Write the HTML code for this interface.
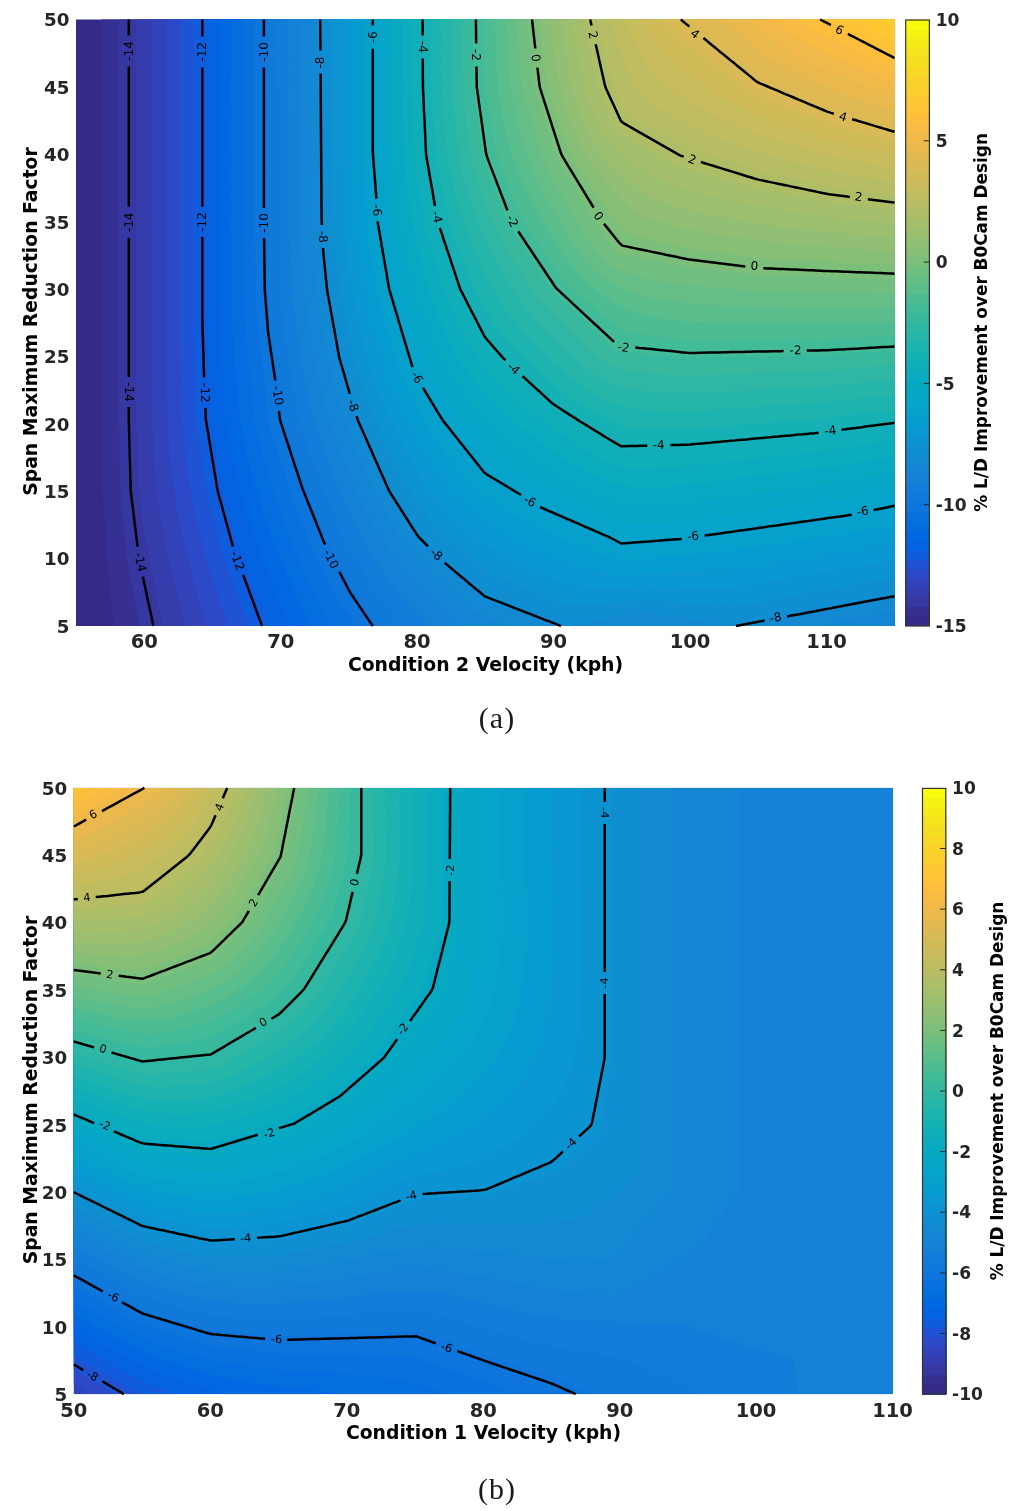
<!DOCTYPE html>
<html><head><meta charset="utf-8"><title>Contour plots</title>
<style>
html,body{margin:0;padding:0;background:#fff}
body{width:1024px;height:1511px;position:relative;overflow:hidden}
svg{position:absolute;left:0;top:0}
.tk{font:bold 19.5px "DejaVu Sans","Liberation Sans",sans-serif;fill:#262626}
.ax{font:bold 18.8px "DejaVu Sans","Liberation Sans",sans-serif;fill:#000}
.cl{font-family:"DejaVu Sans","Liberation Sans",sans-serif;fill:#000;text-anchor:middle;dominant-baseline:central}
.cap{font:30px "Liberation Serif",serif;letter-spacing:1px;fill:#1a1a1a;text-anchor:middle}
</style></head><body>
<svg width="1024" height="1511" viewBox="0 0 1024 1511">
<g id="fa"><rect x="76.0" y="19.5" width="818.7" height="606.5" fill="#352a87"/>
<path fill="#363093" d="M894.7,626 113.8,626 113,620 112,608 107,557.9 102.8,495.9 102.3,485.9 101.3,417.8 101.3,19.5 894.7,19.5Z"/>
<path fill="#3637a0" d="M894.7,626 139.7,626 127,557.9 120.9,495.9 120.4,487.9 119,417.8 119,19.5 894.7,19.5Z"/>
<path fill="#353dad" d="M894.7,626 163.5,626 153.1,580 147.2,549.9 145,535.9 139.9,499.9 138.9,491.9 138.4,483.9 136.5,429.8 136.2,413.8 136.2,43.5 136,19.5 894.7,19.5Z"/>
<path fill="#3243ba" d="M894.7,626 185.6,626 179.2,602 171.8,572 166.5,547.9 162.6,527.9 158.8,505.9 156.7,489.9 155.2,473.9 153.6,449.9 152.4,421.8 151.9,391.8 151.7,319.7 151.9,45.5 151.8,31.5 151.4,19.5 894.7,19.5Z"/>
<path fill="#2c4ac7" d="M894.7,626 206.8,626 199,600 190.1,568 184.2,543.9 179,519.9 175.6,501.9 173,483.9 170.6,461.9 168.3,433.8 167.4,417.8 166.9,401.8 166.4,337.8 166.6,47.5 166.4,31.5 166,19.5 894.7,19.5Z"/>
<path fill="#2053d4" d="M894.7,626 227.7,626 217.1,594 207.2,561.9 201.8,541.9 195.1,513.9 191.4,495.9 188.9,479.9 184.3,443.8 182.3,423.8 181.7,411.8 181.2,395.8 180.2,321.7 180.4,47.5 180.3,31.5 180,19.5 894.7,19.5Z"/>
<path fill="#0f5cdd" d="M894.7,626 248.2,626 227.1,566 223,553.9 219.6,541.9 209.7,503.9 207.3,493.9 205.9,485.9 197.4,429.8 196.5,421.8 195.8,411.8 194.8,377.8 193.5,317.7 193.6,51.5 193.4,19.5 894.7,19.5Z"/>
<path fill="#0363e1" d="M206.4,19.5 894.7,19.5 894.7,626 268.6,626 264.7,616 239.2,547.9 236.8,539.9 224.3,495.9 222.8,489.9 221.6,483.9 211.5,425.8 210.6,419.8 210.1,413.8 208.4,373.8 206.4,315.7Z"/>
<path fill="#0268e1" d="M218.8,19.5 894.7,19.5 894.7,626 289.6,626 284.9,616 280.2,604.9 263,561.9 255.6,541.9 248.5,519.9 240.7,493.9 236.7,477.9 232.4,457.9 228.4,437.8 226.3,425.8 224.9,415.8 223.5,397.8 220.9,353.8 219.5,325.8 219,305.7 218.8,269.7 218.9,33.5Z"/>
<path fill="#046de0" d="M231,19.5 894.7,19.5 894.7,626 310.8,626 305.5,616 300.2,605 294.3,592 288.2,577.9 281.6,561.9 276,547.9 270.8,533.9 266.2,520.7 261.3,505.9 257,491.9 253.5,479.9 249.8,465.9 246.1,451 243.2,437.8 240.9,425.8 239.4,415.8 237.5,397.8 233.2,341.8 232,319.7 231.2,297.7 231,267.7 230.9,123.6 231.1,35.5Z"/>
<path fill="#0871de" d="M242.9,19.5 894.7,19.5 894.7,626 332.5,626 326.5,616 321,606 315.9,596 310.2,584 302.8,568 297.5,555.9 292.6,543.9 287.2,529.9 281.3,513.9 276.4,499.9 272.2,487 267.6,471.9 261.8,451.9 258.1,437.8 255.8,427.8 254,417.8 252.3,403.8 245.8,337.8 244.3,315.7 243.2,291.7 243,277.7 242.9,217.7 243.1,35.5Z"/>
<path fill="#0d75dc" d="M254.6,19.5 894.7,19.5 894.7,626 354.8,626 342.2,606.6 336,596 331.8,588 316.9,557.9 313.1,549.9 310.5,543.9 294.2,502.1 289.1,487.9 271.4,431.8 269.3,423.8 268.2,417.8 267.2,409.8 263.7,377.8 258.1,333.8 255.7,299.7 255.2,289.7 254.6,217.7Z"/>
<path fill="#1079da" d="M266.2,19.5 894.7,19.5 894.7,626 377.5,626 372.3,618.7 356.2,595.3 352.8,590 350.2,585.4 327.5,541.9 324.9,535.9 307.1,491.9 304.8,485.9 288.3,435.8 284.2,423.8 282.6,417.8 277.9,379.8 270.9,333.8 267.6,295.7 267.1,287.7 266.2,219.7Z"/>
<path fill="#127dd8" d="M894.7,626 402.4,626 395.2,618 388.3,609.4 378.3,596 370.3,584.4 364.2,574.9 358.2,564.5 349.1,547.9 342.9,535.9 338.2,525.9 331.3,509.9 323.1,489.9 318.5,477.9 310.2,454.5 302.5,431.8 298.8,419.8 296.9,411.8 294.7,399.8 284,333.8 282.5,321.7 280.7,303.7 279.8,293.7 279.2,283.7 278.3,253.7 277.7,219.7 277.7,133.6 277.4,19.5 894.7,19.5Z"/>
<path fill="#1481d6" d="M288.5,19.5 894.7,19.5 894.7,626 430.2,626 423.5,620 417.3,614 408.3,604.5 400.3,595.2 392.3,585.1 384.3,574.2 377.4,563.9 370.3,552.3 363.2,539.9 356.2,526.7 349.1,511.9 342.2,496.1 334.8,477.9 327.2,457.9 320.7,439.8 316,425.8 312.5,413.8 309.2,399.8 306.2,385.3 302.1,363.8 299.3,347.8 296.8,331.8 294.6,315.7 292.7,299.7 291.6,287.7 290.8,275.7 289.7,247.7 289.1,219.7 289.1,135.6Z"/>
<path fill="#1485d4" d="M894.7,626 462.1,626 453.5,620 444.3,612.6 434.3,603.7 424.3,594 414.8,584 406.3,574.2 398.3,564.2 392.3,555.9 385.6,545.9 378.3,533.6 370.3,519.2 363.5,505.9 358,493.9 350.2,475.4 338.5,445.9 332.6,429.8 328.7,417.8 325.3,405.8 320.8,387.8 316.6,369.8 314.2,357.8 311.4,341.8 307.9,319.7 305.3,301.7 304.1,291.7 303.2,281.7 301.4,253.7 300.7,233.7 300.3,215.7 300.3,139.6 299.5,19.5 894.7,19.5Z"/>
<path fill="#1389d3" d="M310.3,19.5 894.7,19.5 894.7,611.4 880.4,614 822.4,626 508.1,626 494.4,620.7 486.4,617.3 478.3,613.3 472.3,609.6 464.7,604 455.2,596 440.3,582.7 429.1,572 420.3,562.7 412.3,553.9 408.3,549.2 404.3,543.9 398.3,534.8 386.3,514.8 379.9,503.9 375.7,495.9 371.2,485.9 352.2,440.7 348.2,431 345.5,423.8 342.3,413.8 337.8,397.8 330.2,370 327.7,359.8 325.1,345.8 316.5,293.7 315,279.7 313.2,257.7 312.5,247.7 311.6,225.7 311.4,215.7 311.2,143.6Z"/>
<path fill="#108ed2" d="M321,19.5 894.7,19.5 894.7,594.8 736.6,624.5 732.6,624.7 728.6,624.7 722.6,624.4 716.5,623.8 704.5,622 678.5,617.4 666.5,615.5 654.5,614 644.5,613.6 636.5,613.9 626.5,615.2 616.5,617.1 592.4,622.3 582.4,624 572.4,625 568.4,625.1 564.4,624.9 560.4,624.2 556.4,622.9 546.4,618.6 500.4,600.6 490.4,597 486.4,595.2 482.3,592.4 474.3,585.4 445.9,561.9 422.3,538.8 419.6,535.9 416.3,531.4 410.5,521.9 392.3,493.9 390,489.9 388.3,486.2 359,419.8 357,413.8 341.5,361.8 339.6,353.8 328,289.7 324.4,253.7 323.8,245.7 322.4,217.7Z"/>
<path fill="#0c93d2" d="M331.6,19.5 894.7,19.5 894.7,577.6 854.7,585 754.6,602.9 742.6,604.9 734.6,605.8 724.6,606.2 714.5,605.8 704.5,604.9 678.7,602 668.5,601 658.5,600.3 648.5,600 640.5,600.2 630.5,600.8 600.4,604.1 590.4,605 580.4,605.3 572.4,604.8 568.4,604.2 562.4,602.9 556.4,601.1 548.4,598.2 532.9,592 516.4,585.1 506.4,580.6 498.4,576.5 492.4,572.9 486.4,568.9 478.3,563.1 468.3,555.5 460.3,549.1 454.3,544 448.3,538.6 441.3,531.9 434.3,524.6 428.8,517.9 422.3,509.1 414.3,497.4 408.3,488.2 404.3,481.5 400.3,474 394.3,461.8 377.2,425.8 373.7,417.8 370.5,409.8 365,393.8 358.7,373.8 354.1,357.8 351.7,347.8 342.5,301.7 339.7,285.7 335.9,253.7 334,229.7 333.3,211.7 332.4,153.6Z"/>
<path fill="#0998d1" d="M341.9,19.5 894.7,19.5 894.7,560 844.7,569.1 764.6,582.8 746.6,585.6 732.6,587.2 722.6,587.9 710.5,588 698.5,587.7 672.5,586.7 656.5,586.5 642.5,586.8 616.5,588 606.5,588.1 596.4,587.9 588.4,587.3 580.4,586.2 574.4,585.1 566.4,583 558.4,580.5 548.4,576.7 536.4,571.7 524.4,566.4 514.4,561.4 506.4,557.1 498.4,552.4 490.4,547.3 480.3,540.4 472.3,534.4 464.3,528.1 458.3,522.9 452.3,517.3 444.3,508.9 436.9,499.9 429.4,489.9 421.4,477.9 414.3,466.1 406.3,451.6 398.3,436.2 390.2,419.8 384.7,407.8 380.7,397.8 376.3,385.8 372.4,373.8 368.8,361.8 365.5,349.8 358.2,318.2 353.2,293.7 350.2,275.7 346.5,245.7 345.4,233.7 344.6,221.7 344,207.7 342.5,149.6 342.2,37.5Z"/>
<path fill="#079ccf" d="M352.2,19.5 894.7,19.5 894.7,542.2 854.7,549.7 834.6,553.1 758.6,565.3 744.6,567.3 732.6,568.8 720.6,569.9 706.5,570.8 660.5,572.3 632.5,573.8 622.5,573.9 612.5,573.5 604.5,572.5 596.4,571.1 586.4,568.7 577.3,566 566.4,562.1 556.4,558.2 544.4,553.1 532.4,547.7 522.4,542.7 512.4,537.2 502.4,531.3 492.4,525 482.3,518.2 474.3,512.3 468.3,507.4 462.3,501.9 454.5,493.9 447.9,485.9 440.3,475.7 430.9,461.9 422.3,448.1 414.3,434.5 406.3,419.7 398.3,403.8 394.3,395.1 390.4,385.8 387.4,377.8 384.2,367.8 380.7,355.8 376.9,341.8 367,301.7 365.3,293.7 363.4,283.7 359.9,259.7 356.5,233.7 355.6,223.7 355.1,215.7 352.8,161.6 352.5,149.6 352.4,37.5Z"/>
<path fill="#06a0cd" d="M362.4,19.5 894.7,19.5 894.7,524.3 858.7,531.4 844.7,533.9 760.6,546.6 730.6,550.8 706.5,553.6 684.5,555.7 656.5,557.6 632.5,559.7 626.5,559.9 620.5,559.6 616.5,559.1 610.5,557.8 604.6,555.9 599.1,553.9 584.1,547.9 564.9,539.9 546.4,532 536.4,527.4 529.5,523.9 522.3,519.9 492.4,501.7 486.4,497.8 480.3,493.7 476.3,490.5 472.3,487 466.3,480.8 459.2,471.9 444.3,451.4 432.3,434.2 427,425.8 422.3,417.8 412.3,399.8 406.3,388.2 401.6,377.8 399.3,371.8 397.3,365.8 390.3,341 377.9,295.7 376.6,289.7 375.1,281.7 368.2,237.2 366.7,225.7 365.9,215.7 365,195.6 362.8,159.6 362.4,149.6Z"/>
<path fill="#06a4ca" d="M372.4,19.5 894.7,19.5 894.7,506.5 856.7,514.4 848.7,515.9 684.5,539.2 676.5,540.1 638.5,542.8 626.5,544.4 622.5,544.4 620.5,544 618.5,543.3 615.8,541.9 610.5,538.7 606.5,536.7 544.4,510 540.4,508 536.4,505.7 517.8,493.9 498.4,482.2 488.4,476.7 484.3,473.8 480.8,469.9 473.3,459.9 442.3,420.8 439.1,415.8 423.5,389.8 416.7,377.8 412.9,369.8 410.8,363.8 388.8,289.7 388,285.7 378.1,227.7 377.2,221.7 376.6,213.7 375.8,195.6 372.6,155.6 372.3,147.6Z"/>
<path fill="#06a7c6" d="M382.2,19.5 894.7,19.5 894.7,489.7 884.7,491.3 854.7,497.2 840.7,499.6 744.6,512.8 684.5,521.7 672.5,523 656.5,524.2 642.5,524.8 632.5,524.5 626.5,523.7 622.5,522.8 616.5,520.9 608.5,517.9 596.4,513.1 582.4,507 568.4,500.6 556.4,494.8 548.4,490.6 542.4,487.1 514.8,469.9 502.9,461.9 498.4,458.3 495.6,455.9 490.4,450.8 480.3,439.8 464.3,421.4 456.4,411.8 450.3,403.4 442.3,391.5 436.1,381.8 431.4,373.8 428.3,367.9 426.4,363.8 422.3,353.3 410,315.7 403.7,295.7 401.4,287.7 400,281.7 398.3,273.3 390.7,233.7 388.7,221.7 387.8,213.7 386.3,193.6 383,157.6 382.6,149.6 382.4,139.6Z"/>
<path fill="#07a9c2" d="M391.8,19.5 894.7,19.5 894.7,473.3 880.7,475.3 848.7,481 828.6,484.1 748.6,494.6 684.5,503.6 670.5,505.1 656.5,506.1 646.5,506.2 636.5,505.7 630.5,505 624.5,503.9 618.5,502.4 610.5,500 602.5,497.1 594.4,493.8 585.7,489.9 576.4,485.3 566.2,479.9 556.4,474.3 545.9,467.9 534.4,460.4 526.4,455 518.4,449.3 511.5,443.8 504.4,437.7 496.4,430.2 488.4,422 478.3,411.3 470,401.8 462.3,392.3 456.3,384.2 450.5,375.8 445.6,367.8 442.2,361.8 438.3,353.9 435.7,347.8 432.3,339.4 426.3,323 421,307.7 416.5,293.7 413.7,283.7 410.7,271.7 406.3,252.1 402.8,235.7 400.6,223.7 398.5,207.7 393.5,159.6 392.8,147.6 392.4,131.6 392,85.6Z"/>
<path fill="#0aacbe" d="M401.5,19.5 894.7,19.5 894.7,457.1 878.7,459.3 840.7,465.4 820.6,468.3 748.6,477 688.5,484.7 670.5,486.5 656.5,487.4 644.5,487.6 634.5,487 628.5,486.3 622.5,485.3 616.5,483.8 610.5,482 604.5,479.8 598.4,477.3 592.4,474.4 586.4,471.3 577,465.9 567.1,459.9 554.4,451.7 542.6,443.8 534.4,438 528.4,433.5 521.4,427.8 514.5,421.8 506.4,414.4 496.4,404.7 488.4,396.5 480.3,387.8 474.3,380.9 468.3,373.4 462.8,365.8 458.3,358.9 454.2,351.8 450.1,343.8 446.3,335.5 441.4,323.8 436.3,310.7 432.3,299.7 429,289.7 425.5,277.7 421.7,263.7 416.7,243.7 414.4,233.7 412.4,223.7 409.6,205.7 405.2,171.6 403.9,159.6 403.3,151.6 402.8,141.6 401.8,93.6Z"/>
<path fill="#0faeb9" d="M411.2,19.5 894.7,19.5 894.7,441.1 880.7,442.9 834.6,449.7 818.6,451.8 744.5,459.9 696.5,465.3 678.5,466.9 654.5,468.4 640.5,468.8 630.5,468.5 622.5,467.6 618.5,466.7 614.5,465.6 610.5,464.1 606.5,462.4 598.4,458.2 585.1,449.9 550.4,427.1 540.4,419.8 530.8,411.8 508.4,391.2 498.4,381.6 492.4,375.6 486.9,369.8 481.7,363.8 476.3,357.1 472.3,351.6 468.3,345.4 464.3,338.1 460.3,329.9 454.3,316.8 449.4,305.7 446.1,297.7 443.2,289.7 440.3,280.7 428.3,239.7 426.2,231.7 424.3,223.7 422.8,215.7 421.1,205.7 414.4,159.6 413.8,153.6 413.3,145.6 411.5,89.6Z"/>
<path fill="#15b1b4" d="M421,19.5 894.7,19.5 894.7,425.3 818.6,435.4 694.5,447.1 686.5,447.7 640.5,449 628.5,449.8 624.5,449.9 620.5,449.3 616.8,447.9 614.5,446.6 604.2,439.8 556.4,409.8 552.4,407 548.5,403.8 502.9,361.8 499.1,357.8 484.3,340.9 482.1,337.8 479.9,333.8 475.1,323.8 459.8,293.7 458,289.7 456.5,285.7 452.7,273.7 438.9,231.7 436.7,223.7 433.4,207.7 424.7,157.6 424,149.6 421.3,87.6Z"/>
<path fill="#1db3af" d="M431,19.5 894.7,19.5 894.7,410 884.7,411 834.6,417.1 816.6,419.1 704.5,428.1 690.5,429 676.5,429.4 652.5,429.5 636.5,429 628.5,428.1 622.5,426.6 616.5,424.3 608.5,420.4 594.4,412.9 580.4,404.5 567.1,395.8 562.4,392.4 558.4,389.1 552.4,383.9 539.2,371.8 516.4,350.4 510.4,344.2 504.6,337.8 499.6,331.8 496.4,327.3 492.4,320.9 484.3,306.8 476.1,291.7 472.1,283.7 469.6,277.7 466.3,269.3 452.3,231.1 448.7,219.7 445.3,205.7 437,163.6 435.9,157.6 435.1,151.6 434.5,143.6 431.4,87.6 431.2,75.5Z"/>
<path fill="#25b5a9" d="M441.2,19.5 894.7,19.5 894.7,395 880.7,396.2 836.7,400.9 814.6,402.9 718.5,409.5 698.5,410.7 682.5,411.2 666.5,411.3 652.5,410.8 640.5,409.8 630.5,408.1 622.5,405.9 612.5,402.3 606.5,399.7 600.4,396.7 590.4,391.1 584.4,387.4 579.2,383.8 573.8,379.8 568.8,375.8 561.9,369.8 553.1,361.8 540.5,349.8 530.3,339.8 524.4,333.5 518.4,326.8 512.7,319.7 508.3,313.7 502.4,304.8 496.4,295 490,283.7 484.8,273.7 480.3,264.3 474.3,250.6 469.1,237.7 464.5,225.7 461.8,217.7 458.9,207.7 453.3,185.6 450.5,173.6 448.4,163.6 447,155.6 446,147.6 445,137.6 443.3,113.6 441.7,87.6 441.3,71.5Z"/>
<path fill="#2eb7a4" d="M451.6,19.5 894.7,19.5 894.7,380.1 878.7,381.2 838.7,384.9 818.6,386.5 720.6,392 702.5,392.9 688.5,393.2 674.5,393.2 662.5,392.8 650.5,392.1 638.5,390.7 628.5,388.8 618.5,385.9 612.5,383.7 608.5,382 600.4,378 592.4,373.1 587.8,369.8 582.7,365.8 575.7,359.8 567.1,351.8 542.7,327.8 536.4,321.1 531.7,315.7 526.7,309.7 522.1,303.7 516.6,295.7 510.1,285.7 502.9,273.7 496.4,262.1 490.4,250.6 486,241.7 481.6,231.7 477.6,221.7 474.3,212.8 470.7,201.7 463.6,177.6 461.6,169.6 459.7,161.6 458.6,155.6 457.4,147.6 456.1,135.6 453.7,109.6 452.1,87.6 451.7,71.5Z"/>
<path fill="#38b99e" d="M462.1,19.5 894.7,19.5 894.7,365.3 878.7,366.3 836.7,369.5 818.6,370.6 704.5,375.2 692.5,375.5 682.5,375.4 664.5,374.5 646.5,373 634.5,371.6 624.5,369.8 616.5,367.4 610.5,364.9 604.5,361.6 600.4,358.9 596.4,355.8 591.7,351.8 585.3,345.8 552.4,313.3 544.4,305 538.3,297.7 533.9,291.7 527.2,281.7 514.4,261.5 505.9,247.7 501.3,239.7 497.1,231.7 494.3,225.7 490.8,217.7 484.3,200 474.3,170.3 471.3,159.6 469.5,149.6 468.2,139.6 464,101.6 462.7,87.6 462.3,75.5Z"/>
<path fill="#42bb98" d="M472.9,19.5 894.7,19.5 894.7,350.6 826.6,354.6 690.5,358 682.5,357.5 640.5,353.4 628.5,352.4 624.5,352 620.5,351 617.2,349.8 613.5,347.8 610.5,345.6 606.1,341.8 596,331.8 572.8,309.7 556.4,294.6 551.9,289.7 549,285.7 542.6,275.7 514.8,233.7 509.1,223.7 504.4,213.7 484.3,160.6 482.8,155.6 482,151.6 480.3,137.6 473.6,87.6 473.4,81.6Z"/>
<path fill="#4dbc92" d="M483.6,19.5 894.7,19.5 894.7,336.1 834.6,338.7 822.6,339 728.6,340 700.5,340.1 690.5,339.9 680.5,339.1 656.5,336.4 640.5,334.3 632.5,333 626.5,331.3 622.5,329.6 618.5,327.2 612.5,322.9 598.4,311.6 584.4,299.5 570.4,286.7 567.5,283.7 563.9,279.7 560.4,275.2 554.4,266.5 528.6,227.7 525,221.7 521.6,215.7 518.6,209.7 516,203.7 506.4,179.8 497.8,157.6 495.9,151.6 494.4,144.3 486.5,95.6 485.3,85.6 484.9,77.5Z"/>
<path fill="#59bd8c" d="M494.5,19.5 894.7,19.5 894.7,321.9 880.7,322 824.6,323.3 764.6,323.4 734.6,323.1 708.5,322.6 694.5,322 680.5,321 666.5,319.4 652.5,317.4 642.5,315.4 634.5,313.1 626.5,309.9 618.5,305.8 610.5,300.8 600.4,293.7 594.4,289 588.4,283.8 582.4,278.2 578.1,273.7 574.4,269.5 569.9,263.7 560.4,250.2 552.3,237.7 543.5,223.7 538.8,215.7 534.4,207.7 530.3,199.6 525.7,189.6 520.5,177.6 516.5,167.6 511.4,153.6 508,141.6 505.8,131.6 502.6,115.6 500.3,103.6 498.6,93.6 497.4,83.6 496.7,73.5Z"/>
<path fill="#65be86" d="M505.5,19.5 894.7,19.5 894.7,307.6 878.7,307.5 816.6,307.7 760.6,307.2 740.6,306.6 714.5,305.4 696.5,304.3 682.5,303 668.5,301.3 656.5,299.4 646.5,297.4 636.5,294.6 626.5,290.9 618.5,287.1 610.5,282.5 603.4,277.7 598.4,273.8 594.4,270.2 590.4,266.3 586.4,261.9 582.4,257 578.4,251.7 570.4,239.7 564.2,229.7 557.1,217.7 550.4,205.9 544.9,195.6 540.4,186.9 536,177.6 532.4,169.6 529.2,161.6 525.1,149.6 520.5,133.6 514.5,109.6 511.3,93.6 509.8,83.6 508.8,73.5Z"/>
<path fill="#71bf80" d="M516.5,19.5 894.7,19.5 894.7,293.5 878.7,293.1 790.6,291.7 760.6,291 748.6,290.4 734.6,289.4 708.5,287.3 692.5,285.8 678.5,284.1 662.5,281.6 648.5,278.9 636.5,276 628.5,273.6 620.5,270.5 614.5,267.4 608.8,263.7 606.3,261.7 602.5,258.3 596.5,251.7 590.4,243.7 583.8,233.7 573.1,215.7 552.4,178.5 546.8,167.6 542.6,157.6 540.5,151.6 538,143.6 528.4,110.7 524.8,97.6 523.1,89.6 521.9,81.6 521,73.5Z"/>
<path fill="#7cbf7b" d="M527.6,19.5 894.7,19.5 894.7,279.3 764.6,274.9 756.6,274.5 750.6,274 694.5,267.7 684.5,266.2 626.5,255 622.5,253.8 620.5,252.9 618.5,251.8 616.5,250.5 613.3,247.7 610,243.7 600.4,230.5 595.8,223.7 567.5,175.6 560.1,163.6 557.9,159.6 556.1,155.6 554.6,151.6 548.6,131.6 536.5,93.6 534.9,87.6 534,81.6Z"/>
<path fill="#87bf77" d="M538.6,19.5 894.7,19.5 894.7,265.3 823.3,261.7 770.6,258.7 760.6,258.1 750.6,257 698.6,249.7 684.5,247.2 656.5,240.8 638.5,236.3 634.5,235.1 631,233.7 628.5,232.3 626.5,231 622.5,227.6 616.5,221.4 611.5,215.7 606.5,209 596.4,194.5 580.4,170.2 571.2,155.6 568.1,149.6 565.8,143.6 557.8,119.6 548.7,91.6 547.1,85.6 545.7,77.5Z"/>
<path fill="#92bf73" d="M549.5,19.5 894.7,19.5 894.7,251.4 826.6,246.8 786.6,243.6 760.6,241 736.6,237.5 713.4,233.7 696.5,230.5 682.5,227.5 668.5,224 656.5,220.4 648.5,217.4 644.5,215.7 640.5,213.7 634.5,209.9 628.5,205.4 624.5,201.9 620.5,198 612.5,189.3 604.5,179.7 594.4,166.8 587.9,157.6 582.4,148.8 579.7,143.6 577.8,139.6 572.9,127.6 567.4,111.6 562.3,95.6 559.1,83.6 557.5,75.5 556.2,67.5Z"/>
<path fill="#9cbf6f" d="M560.6,19.5 894.7,19.5 894.7,237.6 878.7,236.1 832.6,232.4 806.6,229.7 768.6,225 754.6,222.9 738.6,220.1 718.5,216.2 700.5,212.3 686.5,208.9 674.5,205.5 664.5,202.2 656.5,198.9 648.5,194.9 640.5,190 632.5,184.2 624.5,177.5 616.5,170 608.5,161.8 602.5,154.9 596.4,147 591.7,139.6 587.6,131.6 583.3,121.6 578.9,109.6 575,97.6 571.8,85.6 569.6,75.5 567.8,65.5Z"/>
<path fill="#a5be6b" d="M571.9,19.5 894.7,19.5 894.7,223.7 878.7,222 836.7,217.9 820.6,216 802.6,213.4 772.6,208.7 758.6,206.2 746.6,203.8 728.4,199.6 702.5,193.3 688.5,189.5 678.5,186.4 670.5,183.5 661.8,179.6 652.5,174.7 644.5,169.8 636.5,164.5 628.5,158.7 620.5,152.4 614.5,147.1 610.5,143.1 605.8,137.6 601.7,131.6 598.4,125.6 594.9,117.6 590.3,105.6 586.9,95.6 584.2,85.6 582.4,77.5 580.4,67.5Z"/>
<path fill="#aebe67" d="M583.7,19.5 894.7,19.5 894.7,209.8 834.6,202.8 825.9,201.7 762.6,189.6 754.6,187.9 748.6,186.3 688.5,169.1 682.5,167.2 678.1,165.6 672.5,163.1 666,159.6 626.5,136.3 622.5,133.8 618.5,130.7 615.4,127.6 612.6,123.6 609.7,117.6 599.2,91.6 597.9,87.6 596.4,81.6Z"/>
<path fill="#b7bd64" d="M596.5,19.5 894.7,19.5 894.7,196.1 836.7,188 828.6,186.7 768.6,173.4 756.6,170.4 711.2,155.6 693.1,149.6 686.5,147.2 682.5,145.4 676.5,142.2 636.5,119.6 633.2,117.6 630.5,115.5 628.5,113.5 626.5,110.8 624.5,107.4 617.1,93.6 613.3,85.6 611.9,81.6 610.5,76.6Z"/>
<path fill="#c0bc60" d="M610.7,19.5 894.7,19.5 894.7,182.4 846.7,174.3 828.6,170.8 814.6,167.6 798.5,163.6 780.6,158.9 766.6,155 754.6,151.2 738.6,145.6 722.3,139.6 708.5,134.2 698.5,129.9 690.5,126.1 681.8,121.6 672.5,116.4 664.3,111.6 657.9,107.6 652.5,103.8 648.5,100.6 644.5,96.9 641.3,93.6 638,89.6 634.5,84.4 631.6,79.5 628.5,73.5 626.5,68.9 623.6,61.5 620.5,52.5 616.5,39.9Z"/>
<path fill="#c8bc5d" d="M626.4,19.5 894.7,19.5 894.7,168.7 850.7,159.9 830.6,155.4 808.3,149.6 781.5,141.6 758.6,133.9 748.6,130.2 738.6,126.2 728.6,121.8 719.5,117.6 710.5,113 700.5,107.6 692.5,103 683.6,97.6 676.5,92.9 670.5,88.6 664.5,83.8 660.5,80.2 656.5,76.2 652.5,71.7 648.5,66.5 645.1,61.5 641.6,55.5 638.5,49.7 635.6,43.5 632.5,36.3 629.1,27.5Z"/>
<path fill="#d1bb59" d="M644.1,19.5 894.7,19.5 894.7,154.9 840.7,142.1 826.6,138.4 814.6,134.8 793.2,127.6 762.6,116.5 748.6,110.7 738.1,105.6 731,101.6 724.4,97.6 715.1,91.6 703.3,83.6 686.8,71.5 680.5,66.6 674.5,61.4 668.5,55.7 664.5,51.4 660.5,46.7 656.5,41.5 652.5,35.5 650.2,31.5 647,25.5Z"/>
<path fill="#d9ba56" d="M664.9,19.5 894.7,19.5 894.7,140.9 834.6,124.5 824.6,121.5 814.6,117.8 762.6,97.3 756.6,94.7 752.6,92.7 746.6,89 739.1,83.6 703.5,55.5 684.5,40.2 678.5,35 672.5,29.2 668.5,24.5Z"/>
<path fill="#e1b952" d="M691.9,19.5 894.7,19.5 894.7,126.7 830.6,106.7 824.6,104.3 792.6,90.4 767.9,79.5 763.7,77.5 760.6,75.8 756.6,72.9Z"/>
<path fill="#e9b94e" d="M720.5,19.5 894.7,19.5 894.7,112.3 856.7,98.9 834.6,90.6 820.6,84.6 802.6,76.5 790.6,70.8 780.6,65.7 774.6,62.3 770.2,59.5 764.6,55.7 758.6,51.2 742.6,38.3Z"/>
<path fill="#f1b94a" d="M746.5,19.5 894.7,19.5 894.7,97.8 870.7,88.3 838.7,74.9 814.6,64.1 797.3,55.5 784.6,48.3 778.6,44.4 772.6,40.3 760.6,31.2Z"/>
<path fill="#f8bb44" d="M772.1,19.5 894.7,19.5 894.7,83.3 878.7,76.3 834.6,56.1 820.6,49.5 810.6,44.5 800.6,39.1 790.6,32.9 780.6,26Z"/>
<path fill="#fdbe3d" d="M798.6,19.5 894.7,19.5 894.7,68.9 818.6,31.5 808.6,25.9Z"/>
<path fill="#ffc337" d="M827.6,19.5 894.7,19.5 894.7,54.8Z"/>
<path fill="#fec832" d="M856,19.5 894.7,19.5 894.7,41.1 878.7,32.7Z"/>
<path fill="#fcce2e" d="M880.4,19.5 894.7,19.5 894.7,27.6 888.7,24.4Z"/></g>
<g id="fb"><rect x="73.8" y="787.9" width="818.8" height="606.2" fill="#3243ba"/>
<path fill="#2c4ac7" d="M892.6,787.9 892.6,1394.1 90.3,1394.1 80.6,1388.1 73.8,1384.2 73.8,787.9Z"/>
<path fill="#2053d4" d="M892.6,787.9 892.6,1394.1 114,1394.1 90.7,1380.1 73.8,1370.1 73.8,787.9Z"/>
<path fill="#0f5cdd" d="M892.6,1394.1 140.9,1394.1 131.9,1389.6 121.8,1384.1 73.8,1356.1 73.8,787.9 892.6,787.9Z"/>
<path fill="#0363e1" d="M73.8,787.9 892.6,787.9 892.6,1394.1 175.7,1394.1 163.9,1389.5 151.9,1384.5 141.9,1380 131.9,1375.1 111.8,1364.2 83.8,1347.8 73.8,1342.2Z"/>
<path fill="#0268e1" d="M73.8,787.9 892.6,787.9 892.6,1394.1 226.2,1394.1 205.9,1389 187.9,1383.6 177.9,1380.1 167.9,1376.5 149.9,1369.2 135.9,1362.8 121.8,1355.6 109.8,1349 85.8,1335 73.8,1328.3Z"/>
<path fill="#046de0" d="M73.8,787.9 892.6,787.9 892.6,1394.1 340.9,1394.1 284,1387.7 268,1385.6 254,1383.4 236,1380.4 219.9,1377.2 205.9,1374 193.9,1370.6 179.9,1366.1 163.9,1360.4 147.9,1354 135.9,1348.7 127.9,1344.8 117.8,1339.5 87.8,1322.1 73.8,1314.3Z"/>
<path fill="#0871de" d="M73.8,787.9 892.6,787.9 892.6,1394.1 445.8,1394.1 428.1,1387.7 414.1,1383.4 402.1,1380.6 388.1,1378.1 372.1,1376.2 354.1,1374.7 334.1,1373.3 292,1370.9 272,1369.2 252,1366.8 228,1363.4 213.9,1360.9 203.9,1358.7 189.9,1354.7 171.9,1348.7 151.9,1341.5 137.9,1335.9 129.9,1332.1 122.4,1328.1 91.3,1310.1 73.8,1300.3Z"/>
<path fill="#0d75dc" d="M73.8,787.9 892.6,787.9 892.6,1394.1 514.7,1394.1 468,1376.1 438.2,1365 422.1,1359.6 416.1,1357.9 410.1,1356.7 404.1,1355.9 398.1,1355.4 376.1,1354.5 340.1,1353.8 288,1353.4 278,1353.1 266,1352 219.9,1347 211.9,1345.9 205.9,1344.6 197,1342.1 149.9,1327 143.9,1324.9 139.9,1323.3 131.9,1319.3 98.3,1300.1 73.8,1286.4Z"/>
<path fill="#1079da" d="M73.8,787.9 892.6,787.9 892.6,1394.1 596.4,1394.1 578.3,1387.7 559.8,1380.1 552.3,1377.3 520.2,1367.1 488.2,1356.6 434.2,1337.6 424.1,1333.9 420.1,1332.6 417.8,1332.1 414.1,1331.6 410.1,1331.6 398.1,1332.3 364.1,1333.7 280,1336.6 274,1336.3 228,1332.5 215.9,1331.7 209.9,1330.8 205.9,1329.8 195.9,1326.6 160.1,1316.1 149.9,1313.3 143.9,1311.3 137.9,1308.2 129.9,1303.6 73.8,1272.6Z"/>
<path fill="#127dd8" d="M73.8,787.9 892.6,787.9 892.6,1394.1 697.6,1394.1 688.4,1388.6 678.4,1383 668.9,1378.1 660.4,1374 651.5,1370.1 642.4,1366.4 632.3,1362.9 624.3,1360.3 614.3,1357.6 602.3,1355 590.3,1352.8 554.3,1346.8 544.3,1344.8 532.2,1342.1 516.2,1338 500.2,1333.5 456.2,1319.8 443.4,1316.1 436.2,1314.2 430.1,1312.9 420.1,1311.3 410.1,1310.7 404.1,1310.8 396.1,1311.1 322,1317.4 298,1319 282,1319.7 268,1319.6 244,1318.5 225.9,1317.3 213.9,1315.9 201.9,1313.5 179.9,1307.8 157.9,1301.5 147.9,1298 137.9,1293.5 123.8,1286.4 107.8,1277.8 83.8,1264.6 73.8,1259.4Z"/>
<path fill="#1481d6" d="M73.8,787.9 892.6,787.9 892.6,1394.1 799.1,1394.1 797.8,1390.1 796.5,1381.1 794.7,1372.1 793.5,1362.1 793,1360.1 792.5,1358.9 792,1358.1 790.5,1356.9 788.5,1356 786.5,1355.6 778.5,1354.7 756.5,1349.1 700.4,1330 690.4,1326.2 686.4,1325.1 680.4,1324.5 670.4,1324.3 564.3,1319.3 554.3,1318.4 540.3,1316.2 522.2,1312.4 504.2,1308.1 468.2,1298.7 452.2,1295 444.2,1293.5 436.2,1292.2 428.1,1291.2 420.1,1290.7 414.1,1290.5 406.1,1290.6 392.1,1291.5 378.1,1293 342.1,1297.6 320,1300.1 300,1302.1 284,1303.2 268,1303.6 248,1303.4 230,1302.5 215.9,1301.1 207.9,1299.9 199.9,1298.4 181.9,1294.2 163.9,1289.3 155.9,1286.6 149.9,1284.4 137.9,1279.4 123.8,1272.7 111.8,1266.5 85.8,1252.4 73.8,1246.3Z"/>
<path fill="#1485d4" d="M73.8,787.9 739,787.9 738.8,793.9 739,801.9 738.9,1172 739.4,1186 739.2,1188 738.6,1190 737.7,1192 736.4,1194 730.4,1202.5 710.5,1234 707.3,1240 704.7,1244.1 702.9,1246.1 700.3,1248.1 688.4,1254.9 638.4,1285.5 634.3,1288.1 628.8,1292.1 626.3,1293.5 624.3,1294.5 622.3,1295.1 620.3,1295.5 616.3,1295.8 612.3,1295.9 600.3,1295.1 576.3,1293 562.3,1291.5 550.3,1290 538.3,1288.2 526.2,1286 478.2,1276.5 460.2,1273.2 450.2,1271.8 442.2,1270.8 434.2,1270.2 426.1,1269.8 418.1,1269.8 410.1,1270 402.1,1270.6 394.1,1271.4 380.1,1273.4 342.1,1279.6 322,1282.6 302,1285.2 286,1286.8 268,1287.8 248,1288.1 230,1287.6 221.9,1287 213.9,1286.2 205.9,1285.1 197.9,1283.7 181.9,1280.1 171.9,1277.5 163.9,1275.2 155.9,1272.6 147.9,1269.7 135.9,1264.9 123.8,1259.4 113.8,1254.3 87.8,1240.4 73.8,1233.4Z"/>
<path fill="#1389d3" d="M673,787.9 672.8,791.9 673,803.9 673,1174 673.5,1184 673.5,1186 673.2,1188 672.6,1190 670.4,1193.4 664.4,1199.8 662.4,1202.3 632.4,1240 626.3,1248.3 622.9,1252.1 620.3,1254.1 616.3,1256.4 612.3,1258.2 608.3,1259.6 604.3,1260.6 600.3,1261.3 594.3,1262 588.3,1262.2 580.3,1262.1 564.3,1261.1 544.3,1259.2 518.2,1256.3 470.2,1250.4 454.2,1248.8 438.2,1247.8 430.1,1247.6 422.1,1247.8 410.1,1248.8 396.1,1250.8 384.1,1253 352.1,1259.8 336.1,1262.8 308,1267.7 290,1270.2 274,1271.7 256,1272.5 236,1272.8 219.9,1272.3 211.9,1271.6 203.9,1270.6 195.9,1269.1 187.9,1267.4 175.9,1264.4 163.9,1261.1 153.9,1258.1 143.9,1254.8 133.9,1250.9 123.8,1246.2 91.8,1229.4 73.8,1220.4 73.8,787.9Z"/>
<path fill="#108ed2" d="M641,787.9 640.9,1156 641,1160 641.5,1166 641.4,1170 640.9,1172 640.4,1173.1 637.9,1176 630.3,1182 616.3,1195.2 610.3,1200.4 604.3,1205.2 598.3,1209.3 594.3,1211.7 590.3,1213.8 585.3,1216 580.3,1217.8 574.3,1219.5 568.3,1220.8 562.3,1221.7 552.3,1222.8 540.3,1223.7 516.2,1224.9 500.2,1225.5 482.2,1225.4 452.2,1224 440.2,1223.7 430.1,1223.8 420.1,1224.6 410.1,1226.1 398.1,1228.8 386.1,1232 360.1,1239.5 348.1,1242.5 326,1247.1 292,1253.7 282,1255.1 270,1256.2 242,1257.3 221.9,1257.8 215.9,1257.7 209.9,1257.3 203.9,1256.5 197.9,1255.4 183.9,1252.1 157.9,1245.6 147.9,1243 141.9,1241.1 135.9,1238.8 129.7,1236 95.8,1218.5 73.8,1207.6 73.8,787.9Z"/>
<path fill="#0c93d2" d="M610.7,787.9 610.8,980 610.9,1024 611.3,1052 611.2,1058 610.8,1062 608,1080 606,1094 604.8,1104 602.8,1122 602,1126 600.3,1130.7 598.6,1134 597.2,1136 594.3,1139.6 592.3,1141.8 581.1,1152 569.5,1162 564.6,1166 561.9,1168 558.3,1170.3 554.3,1172.4 550.3,1174 518.2,1185.2 494.2,1194 488.2,1195.9 484.2,1196.6 480.2,1197 464.2,1197.3 424.1,1198.7 420.1,1199 416.1,1199.6 410.1,1201.4 368.1,1217 354.1,1222.4 348.1,1224.4 298,1235.6 284,1238.9 280,1239.6 274,1240.2 230,1242.5 215.9,1243.5 209.9,1243.4 203.9,1242.3 193.9,1239.9 159.9,1232.5 147.9,1230.1 141.9,1228.5 137.9,1226.8 124.8,1220 73.8,1194.7 73.8,787.9Z"/>
<path fill="#0998d1" d="M581.3,787.9 580.4,801.9 580.1,821.9 580.2,843.9 581.2,921.9 581.2,950 580.9,976 580.2,1000 579.2,1020 577.8,1036 576.3,1047.3 575,1054 573.6,1060 571.9,1066 569.1,1074 566.8,1080 564.1,1086 561.1,1092 558.3,1096.9 555,1102 552.1,1106 548.3,1110.9 543.7,1116 539.9,1120 534.2,1125.5 529,1130 524.2,1133.9 518.6,1138 512.8,1142 506.2,1146.2 498.2,1151 492.2,1154.4 485,1158 480.2,1160.2 474.2,1162.6 466.2,1165.1 458.2,1167.3 446.2,1169.9 422.1,1174.7 416.1,1176.2 410.1,1178 400.1,1181.9 373.1,1194 356.1,1201.4 346.1,1205.4 338.1,1208.1 316,1214 288,1221 278,1223.1 270,1224.2 248,1226.2 228,1227.7 217.9,1228.3 211.9,1228.3 205.9,1227.7 197.9,1226.4 177.9,1222.8 153.9,1218.1 145.9,1216 137.9,1212.8 115.8,1202.6 81.8,1186 73.8,1182.3 73.8,787.9Z"/>
<path fill="#079ccf" d="M553.1,787.9 552.2,795.9 551.4,805.9 551,815.9 550.8,827.9 551.1,847.9 552.6,891.9 553.1,911.9 553.2,931.9 552.9,952 552.1,972 550.7,990 548.8,1006 546.4,1020 544.7,1028 543.1,1034 540.7,1042 538.6,1048 536.2,1054 533.5,1060 530.4,1066 526.9,1072 523.1,1078 518.8,1084 514.2,1089.8 510.2,1094.5 505,1100 500.2,1104.7 494.4,1110 488.2,1115.1 480.2,1121.1 472.2,1126.5 463,1132 454.2,1136.7 440.2,1143.1 412.1,1154.6 400.1,1159.8 390.1,1164.5 360.1,1179.2 350.1,1183.8 342.1,1187.2 332.1,1191.1 322,1194.5 310,1198.2 296.1,1202 286,1204.6 276,1206.8 266,1208.6 256,1210.1 242,1211.8 228,1213 217.9,1213.5 209.9,1213.3 199.9,1212.6 187.9,1211 171.9,1208.4 159.9,1206 151.9,1204.1 145.9,1202.3 137.9,1199.4 129.9,1196.2 113.8,1189.1 85.8,1175.6 73.8,1170.2 73.8,787.9Z"/>
<path fill="#06a0cd" d="M526.8,787.9 525.8,795.9 524.9,805.9 524.4,815.9 524.2,827.9 524.6,849.9 526.9,905.9 527.1,921.9 526.8,937.9 525.9,956 524.4,972 522.5,986 519.9,1000 518,1008 516.3,1014 513.8,1022 511.6,1028 508.3,1036 505.4,1042 502.3,1048 498.8,1054 494.9,1060 490.6,1066 486,1072 480.9,1078 475.3,1084 470.2,1089.1 464.2,1094.7 458,1100 450.2,1106.2 440.2,1113.3 429.7,1120 419.6,1126 405.4,1134 365.1,1156 350.1,1163.8 338.1,1169.5 328,1173.8 317.1,1178 306,1181.8 294,1185.4 282,1188.7 270,1191.5 257.9,1194 244,1196.4 232,1198 221.9,1198.8 211.9,1199.1 203.9,1198.9 193.9,1198.1 181.9,1196.7 169.9,1194.7 157.9,1192.3 149.9,1190.3 143.9,1188.5 135.9,1185.8 127.9,1182.7 115.8,1177.5 87.8,1164.3 73.8,1158.1 73.8,787.9Z"/>
<path fill="#06a4ca" d="M502.8,787.9 501.7,795.9 500.9,805.9 500.5,815.9 500.4,825.9 500.8,851.9 502.9,903.9 503,917.9 502.7,929.9 501.6,946 499.8,962 497.2,978 494.1,992 491.9,1000 489.9,1006 486.9,1014 484.3,1020 481.4,1026 478.2,1032 474.6,1038 470.7,1044 466.5,1050 461.9,1056 456.2,1063 450,1070 444.3,1076 438.3,1082 431.8,1088 424.8,1094 414.7,1102 403.7,1110 391.9,1118 376.4,1128 363.3,1136 350.1,1143.6 338,1150 325.8,1156 316,1160.3 306.4,1164 296,1167.6 286,1170.6 270,1175 254,1178.8 240,1181.8 230,1183.5 221.9,1184.5 213.9,1185 205.9,1185.1 195.9,1184.6 183.9,1183.4 171.9,1181.7 159.9,1179.6 149.9,1177.4 137.9,1174 131.9,1171.9 125.9,1169.5 115.8,1165.1 87.8,1152 73.8,1145.9 73.8,787.9Z"/>
<path fill="#06a7c6" d="M480.9,787.9 480.1,795.9 479.6,803.9 479.2,825.9 479.6,857.9 481,905.9 481.1,915.9 480.8,923.9 479.7,935.9 477.4,952 473.7,972 470.3,986 468.5,992 466.5,998 464.2,1003.7 462.2,1008 460.2,1012.1 456.8,1018 453.1,1024 449,1030 443.2,1038 437,1046 428.9,1056 422.2,1064 416.8,1070 411,1076 406.1,1080.7 400.1,1086.1 390.4,1094 377.3,1104 366.4,1112 356.1,1119.1 346.1,1125.4 334.6,1132 322,1138.8 312,1143.8 306,1146.5 298,1149.6 290,1152.3 282,1154.7 240,1166.1 228,1169 219.9,1170.4 213.9,1171.1 207.9,1171.3 201.9,1171.2 193.9,1170.7 179.9,1169.1 161.9,1166.7 151.9,1165.1 143.9,1163.4 135.9,1161.1 127.9,1158 92.9,1142 73.8,1133.8 73.8,787.9Z"/>
<path fill="#07a9c2" d="M461.1,787.9 460.6,797.9 460.3,839.9 460.5,873.9 461,913.9 460.8,921.9 460,927.9 458.9,933.9 447.5,984 445.7,990 443.2,996 440.2,1001.5 437.2,1006 398.8,1058 395.6,1062 392.1,1065.9 385.6,1072 354.6,1098 346.1,1104.6 338.1,1109.7 308,1127.2 302,1130.5 296,1133.2 290,1135.3 252,1146.3 221.9,1155.3 217.9,1156.4 213.9,1157.1 207.9,1157.6 201.9,1157.3 165.9,1153.5 149.9,1152.1 145.9,1151.6 141.9,1150.8 137.9,1149.6 133.9,1148 103.8,1134.6 73.8,1121.7 73.8,787.9Z"/>
<path fill="#0aacbe" d="M443.6,787.9 443.4,795.9 443,869.9 442.5,895.9 441.9,917.9 441.1,923.9 439.7,929.9 432.3,958 426.8,978 425.5,982 423.9,986 420.4,992 399.7,1022 379.9,1050 376.4,1054 372.3,1058 341.1,1086 336.1,1090.1 330.3,1094 298,1113.6 294,1115.9 290,1117.8 283.8,1120 238,1134.5 215.9,1141.2 211.9,1142.2 209.9,1142.5 205.9,1142.7 201.9,1142.5 149.9,1139.1 143.9,1138.2 137.9,1136.2 73.8,1109.8 73.8,787.9Z"/>
<path fill="#0faeb9" d="M428.2,787.9 427.7,795.9 427.5,803.9 427.7,841.9 427.4,861.9 426.7,883.9 425.5,901.9 424.2,913.9 422.1,925.9 418.7,940 413.8,956 411.1,964 408.1,971.4 405.2,978 402.1,984 397.4,992 392.4,1000 379,1020 368.8,1034 364.1,1039.8 360.4,1044 354.7,1050 348.7,1056 336.1,1067.6 330.1,1072.7 324,1077.4 312,1085.7 304,1090.8 295.3,1096 288,1100 282,1102.9 274,1106.4 264,1110.3 250,1115.2 238,1119.2 225.9,1122.9 217.9,1125 211.9,1126.2 205.9,1127.1 199.9,1127.6 193.9,1127.7 173.9,1127.3 155.9,1126.2 149.9,1125.5 145.9,1124.7 141.9,1123.8 135.9,1122.1 123.8,1117.9 109.8,1112.6 83.8,1102.1 73.8,1098.4 73.8,787.9Z"/>
<path fill="#15b1b4" d="M413.6,787.9 413.1,795.9 412.8,805.9 413.2,839.9 413.1,853.9 412.6,867.9 411.5,883.9 409.6,901.9 407.4,915.9 404.2,929.9 400.1,943.9 397.2,952 394.9,958 391.3,966 388.4,972 385.2,978 380.6,986 375.7,994 369.3,1004 363.8,1012 358.1,1019.8 353.3,1026 348.4,1032 343,1038 337.2,1044 332.1,1049 326,1054.5 320,1059.6 314,1064.3 308,1068.7 300,1074.1 292,1079.2 284,1083.8 276.2,1088 270,1091.1 262,1094.7 252,1098.9 242,1102.8 234,1105.5 225.9,1108 217.9,1110.1 209.9,1111.7 203.9,1112.7 197.9,1113.3 189.9,1113.8 173.9,1114 165.9,1113.7 157.9,1113.2 151.9,1112.5 145.9,1111.5 135.9,1109.2 123.8,1105.6 111.8,1101.3 85.8,1091.2 73.8,1087.1 73.8,787.9Z"/>
<path fill="#1db3af" d="M399.7,787.9 399.2,795.9 399,805.9 399.6,837.9 399.6,847.9 399.2,859.9 398.5,869.9 396.5,887.9 393.7,905.9 390.8,919.9 388.7,927.9 386.9,933.9 384.8,940 381.7,948 379,954 375.1,962 370.8,970 366.2,978 354.9,996 345.2,1010 340.6,1016 336.1,1021.6 326.7,1032 322,1036.6 316,1042.1 310,1047.3 304,1052 298,1056.3 290,1061.7 282,1066.7 274,1071.4 257.8,1080 249.5,1084 242,1087.3 235.4,1090 228,1092.7 221.9,1094.5 215.9,1096.1 209.9,1097.4 201.9,1098.7 193.9,1099.6 185.9,1100.2 169.9,1100.5 161.9,1100.3 155.9,1100 149.9,1099.3 143.9,1098.4 133.9,1096.3 123.8,1093.4 113.8,1090 87.8,1080.4 73.8,1075.7 73.8,787.9Z"/>
<path fill="#25b5a9" d="M386.4,787.9 385.9,795.9 385.8,803.9 386.6,845.9 386.4,853.9 385.8,861.9 384.9,869.9 383.8,877.9 379.6,901.9 376.6,915.9 375.1,921.9 373.3,927.9 371.2,933.9 368.7,940 365.8,946 362.7,952 358.1,960.2 352.3,970 338.6,992 331.7,1002 323.9,1012 320,1016.4 314.9,1022 306,1030.4 301.9,1034 296,1038.7 290,1043 284,1047 265.9,1058 254,1064.8 244,1070.2 232,1076.1 227.3,1078 221.9,1080 217.9,1081.2 211.9,1082.8 201.9,1084.6 193.9,1085.5 185.9,1086.1 165.9,1087 157.9,1087.1 151.9,1086.8 141.9,1085.8 133.9,1084.2 125.9,1081.9 91.5,1070 73.8,1064.3 73.8,787.9Z"/>
<path fill="#2eb7a4" d="M373.5,787.9 373.2,799.9 374,847.9 373.8,853.9 373.5,857.9 371.9,867.9 363.7,907.9 361.4,917.9 359.7,923.9 358.2,927.9 356.5,931.9 352.1,940.1 326.5,982 320.2,992 315.9,998 310,1005 301.4,1014 294,1021 288,1026 280,1031.4 228,1062 221.9,1065 215.9,1067.4 211.9,1068.6 205.9,1069.8 193.9,1071.1 155.9,1073.9 147.9,1074.1 141.9,1073.7 137.9,1073 131.9,1071.5 97.8,1060.3 73.8,1052.9 73.8,787.9Z"/>
<path fill="#38b99e" d="M361.3,787.9 361.2,793.9 361.3,803.9 361.3,837.9 361.5,849.9 361.2,855.9 360.4,859.9 357.8,869.9 349.3,905.9 346.8,917.9 345.6,921.9 343.5,925.9 337,935.9 305,988 303.5,990 300,993.8 291.4,1002 281.8,1012 279.5,1014 276,1016.3 266,1021.9 225,1046 215.7,1052 211.9,1054 209.9,1054.6 207.9,1055 203.9,1055.5 195.2,1056 159.9,1059.6 147.9,1061.3 143.9,1061.6 141.9,1061.4 137.9,1060.5 125.9,1056.6 73.8,1041.5 73.8,787.9Z"/>
<path fill="#42bb98" d="M350.3,787.9 349.8,797.9 348.8,841.9 348.5,847.9 347.9,853.9 346,863.9 342,879.9 336.6,899.9 332.8,911.9 331.2,915.9 329.3,919.9 324.9,927.9 309,954 296.1,974 292,979.5 288,984.3 280.6,992 274,998.2 266.8,1004 256,1011.1 236,1023 215.9,1034 209.9,1036.9 203.9,1039.1 197.9,1040.6 187.9,1042.4 171.9,1044.8 155.9,1046.7 147.9,1047.3 141.9,1047.1 133.9,1045.8 121.8,1043 73.8,1030.4 73.8,787.9Z"/>
<path fill="#4dbc92" d="M339.6,787.9 338.6,801.9 336.7,837.9 336,845.9 335,853.9 333,863.9 329.9,875.9 326,888.8 322.2,899.9 318,909.9 315.1,915.9 312,921.9 302.6,937.9 292.5,954 285.5,964 279.2,972 272,980 264,987.5 258.5,992 254,995.4 248,999.5 242,1003.3 228,1011.5 213.9,1018.7 203.9,1023 195.3,1026 183.9,1028.9 171.9,1031.3 161.9,1032.8 151.9,1033.7 143.9,1033.8 135.9,1033.1 127.9,1031.9 117.8,1029.9 83.8,1021.5 73.8,1019.3 73.8,787.9Z"/>
<path fill="#59bd8c" d="M329.2,787.9 327.7,801.9 324.9,835.9 324,843.9 322.8,851.9 320.8,861.9 318.7,869.9 315.5,879.9 312,889.3 306.5,901.9 300,914.8 291.4,929.9 282.7,944 275.6,954 268,963.4 260,971.9 253.4,978 248.6,982 244,985.5 234.3,992 223.9,998 211.9,1004 199.9,1009.1 187.9,1013.3 175.9,1016.7 163.9,1019.2 155.9,1020.3 147.9,1020.9 139.9,1020.8 131.9,1020.1 123.8,1019 115.8,1017.4 87.8,1011 73.8,1008.1 73.8,787.9Z"/>
<path fill="#65be86" d="M318.8,787.9 316.7,803.9 313.1,835.9 311,849.9 309.4,857.9 307.2,865.9 305.2,871.9 302,879.9 296,892.8 288.1,907.9 279.1,923.9 271.7,935.9 264.5,946 258,953.8 250.3,962 242,969.6 234,975.9 225.9,981.2 217.9,985.7 207.9,990.5 193.9,996.2 179.9,1001.2 167.9,1004.7 161.9,1006.2 155.9,1007.3 149.9,1008.1 143.9,1008.5 137.9,1008.4 129.9,1007.7 117.8,1005.7 89.8,999.9 73.8,996.9 73.8,787.9Z"/>
<path fill="#71bf80" d="M308.6,787.9 306.3,801.9 300.7,839.9 299.1,849.9 297.8,855.9 296.7,859.9 295.4,863.9 292.9,869.9 288,879.8 274,905.3 264.6,921.9 259.5,929.9 254,937.4 248,944.3 238.5,954 229.9,962 223.9,966.6 218.6,970 211.9,973.5 205.9,976.1 187.9,983.1 165.9,991.1 155.9,994.2 151.9,995.1 147.9,995.8 143.9,996.2 139.9,996.3 135.9,996.1 129.9,995.5 121.8,994.2 89.8,988.3 73.8,985.7 73.8,787.9Z"/>
<path fill="#7cbf7b" d="M298.3,787.9 289.1,837.9 286.8,851.9 285.2,857.9 283.4,861.9 264.9,893.9 250.1,919.9 247.6,923.9 244.5,927.9 242,930.7 230.2,942 220.4,952 217.9,954.3 213.9,957.3 211.9,958.5 207.9,960.3 195.9,964.6 177.9,971.3 160.5,978 149.9,982.3 145.9,983.5 143.9,983.8 139.9,984.1 135.9,983.8 119.8,981 73.8,974.5 73.8,787.9Z"/>
<path fill="#87bf77" d="M288.1,787.9 275,847.9 273.1,853.9 271.2,857.9 250,893.8 240,910.3 236.1,915.9 234,918.6 230.8,921.9 209.9,941.7 207,944 203.9,945.9 199.9,947.8 194.8,950 177.9,956.7 161.9,962.8 147.9,967.9 143.9,969.1 141.9,969.4 137.9,969.8 131.9,969.4 109.8,967.3 73.8,963.4 73.8,787.9Z"/>
<path fill="#92bf73" d="M277.8,787.9 270,819.9 265.1,837.9 263.2,843.9 261.7,847.9 260,851.9 257,857.9 250.2,869.9 242,883.3 234,895.5 228,903.9 223,909.9 217.3,915.9 209.9,922.9 204,927.9 197.9,932.4 192,935.9 185.9,939.1 177.9,942.8 167.9,946.9 157.9,950.6 149.9,953 141.9,954.9 133.9,955.8 127.9,956 121.8,955.9 107.8,955.1 73.8,952.6 73.8,787.9Z"/>
<path fill="#9cbf6f" d="M267.6,787.9 259.3,817.9 254.2,833.9 252,839.9 249.5,845.9 246.6,851.9 243.4,857.9 238,867.1 232,876.4 225.9,885 219.9,892.9 214,899.9 208.3,905.9 201.9,911.9 195.9,916.9 189.9,921.3 183.9,925.2 177.9,928.6 171.9,931.6 165.9,934.2 157.9,937.3 149.9,939.7 143.9,941.2 139.9,941.9 133.9,942.7 127.9,943.2 121.8,943.4 109.8,943.2 73.8,941.7 73.8,787.9Z"/>
<path fill="#a5be6b" d="M257.2,787.9 249.2,813.9 243.6,829.9 241.2,835.9 238.5,841.9 235.4,847.9 232,854.1 227.1,861.9 221.7,869.9 215.9,877.6 210.8,883.9 205.4,889.9 199.5,895.9 192.9,901.9 185.9,907.7 180.2,911.9 174.1,915.9 169.9,918.4 163.9,921.5 158.2,923.9 153.9,925.6 147.9,927.4 141.9,928.8 131.9,930.3 119.8,931 109.8,931.1 73.8,930.7 73.8,787.9Z"/>
<path fill="#aebe67" d="M246.6,787.9 237.7,813.9 232,828.9 229.7,833.9 226.6,839.9 223.9,844.6 219.9,851 215.3,857.9 209.9,865.2 205.9,870.2 200.8,875.9 194.8,881.9 187.9,888.3 181.5,893.9 173.9,900.1 168.7,903.9 163.9,907.1 159.9,909.5 155.9,911.5 151.9,913.2 147.9,914.6 143.9,915.7 139.9,916.6 131.9,917.7 121.8,918.4 73.8,919.7 73.8,787.9Z"/>
<path fill="#b7bd64" d="M235.9,787.9 222.8,821.9 219.2,829.9 216.9,833.9 214.3,837.9 202.9,853.9 197.9,860.3 194.7,863.9 191.9,866.6 185.9,871.9 156.9,895.9 151.9,899.3 147.9,901.4 143.9,902.8 137.9,904.1 131.9,904.8 95.8,906.9 73.8,908.5 73.8,787.9Z"/>
<path fill="#c0bc60" d="M225,787.9 215.4,809.9 211.3,819.9 209.5,823.9 206.9,827.9 197.5,839.9 189.9,850 186.4,853.9 183.9,856.1 173.6,863.9 155.5,877.9 145.9,886.1 143.9,887.6 141.9,888.7 139.9,889.4 137.9,889.9 125.9,891 73.8,897.3 73.8,787.9Z"/>
<path fill="#c8bc5d" d="M213.8,787.9 205.9,804.7 201.2,813.9 197.5,819.9 191.9,827.4 182.9,837.9 179.9,841.1 175.9,844.9 167.9,851.3 155.9,860 145.9,866.8 139.9,870.5 135.9,872.5 129.9,874.9 121.8,877 109.8,879.6 91.8,883 73.8,886 73.8,787.9Z"/>
<path fill="#d1bb59" d="M202.4,787.9 197.3,797.9 191.9,807 187.2,813.9 182.4,819.9 175.9,827 169.9,832.6 161.9,839.1 153.9,844.7 143.9,851 135.9,855.5 129.9,858.5 121.8,861.8 113.8,864.5 101.8,868 87.8,871.6 73.8,874.8 73.8,787.9Z"/>
<path fill="#d9ba56" d="M190.6,787.9 185.9,795.8 181.9,801.7 177.9,806.9 173.6,811.9 167.9,817.5 162.9,821.9 155.9,827.2 149.9,831.3 141.9,836.1 133.9,840.5 125.9,844.5 115.8,849 105.8,853.1 93.8,857.4 83.8,860.6 73.8,863.4 73.8,787.9Z"/>
<path fill="#e1b952" d="M178,787.9 175.2,791.9 171.9,796.3 167.9,800.9 163.9,805 159.9,808.6 155.9,811.7 151.9,814.6 145.9,818.4 137.9,823 129.9,827.3 108,837.9 89.8,846 81.8,849.1 73.8,851.9 73.8,787.9Z"/>
<path fill="#e9b94e" d="M164.2,787.9 159.9,792.8 154.4,797.9 149.9,801.3 143.9,805.1 129.9,812.6 88.1,833.9 79.8,837.9 73.8,840.4 73.8,787.9Z"/>
<path fill="#f1b94a" d="M148.2,787.9 145.7,789.9 141.9,792.3 129.9,798.6 89.8,820.2 79.5,825.9 73.8,828.8 73.8,787.9Z"/>
<path fill="#f8bb44" d="M125,787.9 94.2,805.9 73.8,817.1 73.8,787.9Z"/>
<path fill="#fdbe3d" d="M104.2,787.9 87.8,798.2 79.8,802.8 73.8,805.9 73.8,787.9Z"/>
<path fill="#ffc337" d="M85.2,787.9 78.8,791.9 73.8,794.6 73.8,787.9Z"/></g>
<g id="ca" style="font-size:12px"><path d="M128.8 19.5 L128.8 23.5 L128.8 27.5 L128.8 31.5 L128.8 35.5 M128.8 66.6 L128.8 70.6 L128.8 74.6 L128.8 78.6 L128.8 82.6 L128.8 86.6 L128.8 90.6 L128.8 94.6 L128.8 98.6 L128.8 102.6 L128.8 106.6 L128.8 110.6 L128.8 114.6 L128.8 118.6 L128.8 122.6 L128.8 126.6 L128.8 130.6 L128.8 134.6 L128.8 138.6 L128.8 142.7 L128.8 146.7 L128.8 150.7 L128.8 154.7 L128.8 158.7 L128.8 162.7 L128.8 166.7 L128.8 170.7 L128.8 174.7 L128.8 178.7 L128.8 182.7 L128.8 186.7 L128.8 190.7 L128.8 194.7 L128.8 198.7 L128.8 202.7 L128.8 206.7 M128.8 237.8 L128.8 241.8 L128.8 245.8 L128.8 249.8 L128.8 253.8 L128.8 257.8 L128.8 261.8 L128.8 265.8 L128.8 269.8 L128.8 273.8 L128.8 277.8 L128.8 281.8 L128.8 285.8 L128.8 289.8 L128.8 293.8 L128.8 297.8 L128.8 301.9 L128.8 305.9 L128.8 309.9 L128.8 313.9 L128.8 317.9 L128.8 321.9 L128.8 325.9 L128.8 329.9 L128.8 333.9 L128.8 337.9 L128.8 341.9 L128.8 345.9 L128.8 349.9 L128.8 353.9 L128.8 357.9 L128.8 361.9 L128.8 365.9 L128.8 369.9 L128.8 373.9 L128.8 376.9 M128.8 407.0 L128.8 411.0 L128.8 415.0 L128.8 419.0 L128.9 423.0 L129.0 427.0 L129.1 431.0 L129.2 435.0 L129.3 439.0 L129.4 443.0 L129.5 447.0 L129.6 451.0 L129.7 455.0 L129.8 459.0 L130.0 463.0 L130.1 467.0 L130.2 471.0 L130.3 475.0 L130.4 479.0 L130.5 483.0 L130.6 487.0 L130.7 491.0 L131.2 495.0 L131.7 499.1 L132.2 503.1 L132.7 507.1 L133.2 511.2 L133.7 515.2 L134.2 519.2 L134.7 523.3 L135.2 527.3 L135.7 531.4 L136.2 535.4 L136.7 539.4 L137.2 543.5 L137.6 546.5 M142.9 576.6 L143.7 580.6 L144.6 584.5 L145.4 588.5 L146.2 592.4 L147.1 596.4 L147.9 600.3 L148.8 604.3 L149.6 608.2 L150.5 612.2 L151.3 616.1 L152.1 620.1 L153.0 624.0 L153.4 626.0 M202.3 19.5 L202.3 23.5 L202.3 27.5 L202.3 31.5 L202.3 35.5 L202.3 36.5 M202.3 67.6 L202.3 71.6 L202.3 75.6 L202.3 79.6 L202.3 83.6 L202.3 87.6 L202.3 91.6 L202.3 95.6 L202.3 99.6 L202.3 103.6 L202.3 107.6 L202.3 111.7 L202.3 115.7 L202.3 119.7 L202.3 123.7 L202.3 127.7 L202.3 131.7 L202.3 135.7 L202.3 139.7 L202.3 143.7 L202.3 147.7 L202.3 151.7 L202.3 155.7 L202.3 159.7 L202.3 163.7 L202.3 167.7 L202.3 171.8 L202.3 175.8 L202.3 179.8 L202.3 183.8 L202.3 187.8 L202.3 191.8 L202.3 195.8 L202.3 199.8 L202.3 203.8 L202.3 206.8 M202.3 236.9 L202.3 240.9 L202.3 244.9 L202.3 248.9 L202.3 252.9 L202.3 256.9 L202.3 260.9 L202.3 264.9 L202.3 268.9 L202.3 272.9 L202.3 276.9 L202.3 280.9 L202.3 284.9 L202.3 288.9 L202.3 293.0 L202.3 297.0 L202.3 301.0 L202.3 305.0 L202.3 309.0 L202.3 313.0 L202.3 317.0 L202.4 321.0 L202.5 325.1 L202.6 329.1 L202.7 333.1 L202.9 337.2 L203.0 341.2 L203.1 345.2 L203.2 349.3 L203.4 353.3 L203.5 357.3 L203.6 361.4 L203.7 365.4 L203.8 369.5 L204.0 373.5 L204.1 377.5 M205.4 407.9 L205.6 411.9 L205.7 416.0 L205.9 420.0 L206.6 424.0 L207.2 428.0 L207.9 432.0 L208.6 436.0 L209.2 440.0 L209.9 444.0 L210.6 448.0 L211.2 452.0 L211.9 456.0 L212.5 460.0 L213.2 464.0 L213.9 468.0 L214.5 472.0 L215.2 476.0 L215.9 480.0 L216.5 484.0 L217.2 488.0 L218.0 492.0 L219.0 495.9 L220.1 499.8 L221.2 503.7 L222.3 507.6 L223.3 511.5 L224.4 515.4 L225.5 519.3 L226.5 523.2 L227.6 527.1 L228.7 531.0 L229.8 534.9 L230.8 538.8 L231.9 542.7 L233.0 546.6 M243.2 575.0 L244.6 578.7 L246.0 582.5 L247.4 586.3 L248.8 590.1 L250.2 593.9 L251.6 597.6 L253.0 601.4 L254.4 605.2 L255.7 609.0 L257.1 612.8 L258.5 616.5 L259.9 620.3 L261.3 624.1 L262.0 626.0 M263.9 19.5 L263.9 23.5 L263.9 27.5 L263.9 31.5 L263.9 35.5 L263.9 36.5 M263.9 67.6 L263.9 71.6 L263.9 75.6 L263.9 79.6 L263.9 83.7 L263.9 87.7 L263.9 91.7 L263.9 95.7 L263.9 99.7 L263.9 103.7 L263.9 107.7 L263.9 111.7 L263.9 115.7 L263.9 119.7 L263.9 123.8 L263.9 127.8 L263.9 131.8 L263.9 135.8 L263.9 139.8 L263.9 143.8 L263.9 147.8 L263.9 151.8 L263.9 155.8 L263.9 159.8 L263.9 163.9 L263.9 167.9 L263.9 171.9 L263.9 175.9 L263.9 179.9 L263.9 183.9 L263.9 187.9 L263.9 191.9 L263.9 195.9 L263.9 199.9 L263.9 204.0 L263.9 208.0 M264.1 238.1 L264.1 242.1 L264.2 246.1 L264.2 250.1 L264.3 254.1 L264.3 258.2 L264.4 262.2 L264.4 266.2 L264.5 270.2 L264.5 274.2 L264.6 278.3 L264.6 282.3 L264.7 286.3 L264.8 290.3 L265.1 294.4 L265.4 298.4 L265.8 302.5 L266.1 306.6 L266.4 310.6 L266.7 314.7 L267.1 318.8 L267.4 322.8 L267.7 326.9 L268.0 331.0 L268.5 335.0 L269.1 338.9 L269.7 342.9 L270.3 346.9 L270.8 350.8 L271.4 354.8 L272.0 358.7 L272.6 362.7 L273.2 366.6 L273.8 370.6 L274.4 374.6 L275.0 378.5 L275.2 380.5 M278.9 410.9 L279.4 414.9 L279.9 419.0 L280.9 422.9 L282.2 426.7 L283.5 430.6 L284.7 434.5 L286.0 438.3 L287.3 442.2 L288.5 446.0 L289.8 449.9 L291.0 453.7 L292.3 457.6 L293.6 461.4 L294.8 465.3 L296.1 469.1 L297.4 473.0 L298.6 476.8 L299.9 480.7 L301.1 484.5 L302.4 488.4 L303.9 492.2 L305.4 495.9 L306.9 499.7 L308.4 503.5 L310.0 507.2 L311.5 511.0 L313.0 514.8 L314.5 518.5 L316.0 522.3 L317.5 526.1 L319.0 529.8 L320.5 533.6 L322.0 537.4 L323.5 541.1 L325.2 544.8 M339.3 571.7 L341.1 575.3 L343.0 578.9 L344.9 582.4 L346.7 586.0 L348.6 589.6 L350.6 593.1 L352.9 596.5 L355.1 599.9 L357.4 603.3 L359.7 606.6 L362.0 610.0 L364.2 613.4 L366.5 616.7 L368.8 620.1 L371.1 623.5 L372.8 626.0 M320.2 19.5 L320.2 23.5 L320.3 27.5 L320.3 31.5 L320.3 35.5 L320.3 39.5 L320.4 43.6 L320.4 47.6 L320.4 50.6 M320.6 73.6 L320.6 77.6 L320.6 81.7 L320.7 85.7 L320.7 89.7 L320.7 93.7 L320.7 97.7 L320.8 101.7 L320.8 105.7 L320.8 109.7 L320.9 113.7 L320.9 117.7 L320.9 121.8 L320.9 125.8 L321.0 129.8 L321.0 133.8 L321.0 137.8 L321.1 141.8 L321.1 145.8 L321.1 149.8 L321.1 153.8 L321.2 157.8 L321.2 161.9 L321.2 165.9 L321.2 169.9 L321.3 173.9 L321.3 177.9 L321.3 181.9 L321.4 185.9 L321.4 189.9 L321.4 193.9 L321.4 197.9 L321.5 202.0 L321.5 206.0 L321.5 210.0 L321.6 214.0 L321.6 218.0 L321.7 222.0 L321.9 225.0 M323.0 248.0 L323.3 252.0 L323.7 256.0 L324.1 260.1 L324.5 264.1 L324.9 268.1 L325.3 272.2 L325.7 276.2 L326.1 280.2 L326.5 284.3 L326.9 288.3 L327.5 292.3 L328.2 296.2 L329.0 300.2 L329.7 304.2 L330.4 308.1 L331.1 312.1 L331.8 316.1 L332.5 320.0 L333.2 324.0 L334.0 328.0 L334.7 331.9 L335.4 335.9 L336.1 339.9 L336.8 343.8 L337.5 347.8 L338.2 351.8 L338.9 355.7 L339.9 359.7 L341.0 363.6 L342.2 367.5 L343.3 371.4 L344.5 375.4 L345.6 379.3 L346.7 383.2 L347.9 387.1 L349.0 391.0 L349.9 394.0 M356.6 416.1 L357.8 420.0 L359.4 423.7 L361.1 427.4 L362.7 431.1 L364.3 434.8 L366.0 438.5 L367.6 442.2 L369.2 445.9 L370.8 449.5 L372.5 453.2 L374.1 456.9 L375.7 460.6 L377.4 464.3 L379.0 468.0 L380.6 471.7 L382.3 475.4 L383.9 479.1 L385.5 482.8 L387.2 486.5 L388.8 490.2 L390.8 493.7 L393.0 497.1 L395.2 500.5 L397.3 503.9 L399.5 507.3 L401.7 510.7 L403.8 514.1 L406.0 517.5 L408.2 520.9 L410.3 524.3 L412.5 527.7 L414.7 531.1 L416.8 534.5 L419.3 537.6 L422.2 540.5 L425.1 543.4 L428.0 546.3 M444.7 562.8 L447.8 565.4 L450.9 568.0 L454.0 570.6 L457.1 573.2 L460.1 575.8 L463.2 578.3 L466.3 580.9 L469.4 583.5 L472.5 586.1 L475.6 588.7 L478.7 591.2 L481.8 593.8 L484.9 596.4 L488.7 597.9 L492.4 599.3 L496.2 600.8 L499.9 602.2 L503.7 603.7 L507.4 605.2 L511.2 606.6 L514.9 608.1 L518.7 609.6 L522.4 611.0 L526.2 612.5 L529.9 613.9 L533.7 615.4 L537.4 616.9 L541.2 618.3 L544.9 619.8 L548.7 621.2 L552.5 622.7 L556.2 624.2 L560.0 625.6 L560.9 626.0 M736.0 626.0 L739.9 625.3 L743.9 624.5 L747.8 623.8 L751.8 623.0 L755.7 622.3 L759.6 621.6 L763.6 620.8 L764.6 620.6 M787.2 616.4 L791.2 615.6 L795.1 614.9 L799.0 614.2 L803.0 613.4 L806.9 612.7 L810.9 611.9 L814.8 611.2 L818.7 610.5 L822.7 609.7 L826.6 609.0 L830.6 608.2 L834.5 607.5 L838.4 606.8 L842.4 606.0 L846.3 605.3 L850.3 604.5 L854.2 603.8 L858.2 603.0 L862.1 602.3 L866.0 601.6 L870.0 600.8 L873.9 600.1 L877.9 599.3 L881.8 598.6 L885.7 597.9 L889.7 597.1 L893.6 596.4 L894.6 596.2 M372.8 19.5 L372.8 23.5 L372.8 25.5 M372.8 48.7 L372.8 52.7 L372.8 56.7 L372.8 60.7 L372.8 64.7 L372.8 68.8 L372.8 72.8 L372.8 76.8 L372.8 80.8 L372.8 84.8 L372.8 88.9 L372.8 92.9 L372.8 96.9 L372.8 100.9 L372.8 105.0 L372.8 109.0 L372.8 113.0 L372.8 117.0 L372.8 121.0 L372.8 125.1 L372.8 129.1 L372.8 133.1 L372.8 137.1 L372.8 141.1 L372.8 145.2 L372.8 149.2 L372.9 153.2 L373.2 157.3 L373.5 161.3 L373.8 165.3 L374.1 169.4 L374.4 173.4 L374.8 177.5 L375.1 181.5 L375.4 185.6 L375.7 189.6 L376.0 193.6 L376.3 197.7 L376.4 198.7 M377.6 221.3 L378.2 225.3 L378.9 229.3 L379.6 233.3 L380.3 237.3 L381.0 241.3 L381.6 245.3 L382.3 249.3 L383.0 253.3 L383.7 257.3 L384.4 261.3 L385.1 265.3 L385.8 269.3 L386.5 273.3 L387.1 277.3 L387.8 281.3 L388.5 285.3 L389.2 289.3 L390.4 293.1 L391.5 297.0 L392.7 300.8 L393.8 304.7 L395.0 308.5 L396.1 312.4 L397.3 316.2 L398.4 320.1 L399.6 323.9 L400.7 327.8 L401.9 331.6 L403.0 335.5 L404.2 339.3 L405.3 343.2 L406.5 347.0 L407.6 350.9 L408.8 354.7 L409.9 358.5 L411.1 362.4 L412.2 366.2 L412.5 367.2 M422.9 387.7 L425.0 391.2 L427.1 394.7 L429.3 398.2 L431.4 401.7 L433.5 405.2 L435.6 408.7 L437.7 412.1 L439.9 415.6 L442.0 419.1 L444.4 422.4 L446.9 425.5 L449.4 428.6 L451.9 431.8 L454.3 434.9 L456.8 438.0 L459.3 441.2 L461.8 444.3 L464.3 447.4 L466.8 450.6 L469.3 453.7 L471.8 456.8 L474.3 460.0 L476.8 463.1 L479.3 466.2 L481.8 469.4 L484.3 472.5 L487.5 474.9 L491.0 477.0 L494.5 479.1 L498.1 481.2 L501.6 483.3 L505.1 485.4 L508.6 487.5 L512.1 489.6 L515.6 491.7 L519.1 493.8 L520.9 494.9 M540.1 507.0 L543.8 508.7 L547.4 510.3 L551.1 511.9 L554.8 513.5 L558.5 515.1 L562.2 516.7 L565.8 518.3 L569.5 519.9 L573.2 521.5 L576.9 523.1 L580.6 524.7 L584.2 526.3 L587.9 527.9 L591.6 529.5 L595.3 531.1 L599.0 532.7 L602.6 534.3 L606.3 535.9 L610.0 537.5 L613.8 539.5 L617.5 541.5 L621.3 543.5 L625.3 543.2 L629.4 542.9 L633.4 542.6 L637.4 542.3 L641.5 542.0 L645.5 541.7 L649.5 541.4 L653.6 541.1 L657.6 540.8 L661.6 540.4 L665.7 540.1 L669.7 539.8 L673.7 539.5 L677.8 539.2 L681.8 538.9 M704.6 535.6 L708.6 535.1 L712.6 534.5 L716.6 533.9 L720.5 533.4 L724.5 532.8 L728.5 532.2 L732.5 531.7 L736.4 531.1 L740.4 530.5 L744.4 530.0 L748.4 529.4 L752.3 528.9 L756.3 528.3 L760.3 527.7 L764.3 527.2 L768.2 526.6 L772.2 526.0 L776.2 525.5 L780.2 524.9 L784.1 524.3 L788.1 523.8 L792.1 523.2 L796.1 522.7 L800.0 522.1 L804.0 521.5 L808.0 521.0 L812.0 520.4 L815.9 519.8 L819.9 519.3 L823.9 518.7 L827.8 518.1 L831.8 517.6 L835.8 517.0 L839.8 516.5 L843.7 515.9 L847.7 515.3 L851.7 514.7 M873.6 510.1 L877.6 509.3 L881.6 508.5 L885.6 507.7 L889.6 506.8 L893.6 506.0 L894.6 505.8 M422.6 19.5 L422.6 23.5 L422.6 27.5 L422.7 31.5 L422.7 35.5 M422.8 58.6 L422.8 62.6 L422.8 66.6 L422.8 70.6 L422.8 74.6 L422.9 78.6 L422.9 82.6 L422.9 86.6 L423.1 90.6 L423.3 94.6 L423.5 98.7 L423.7 102.7 L423.8 106.7 L424.0 110.7 L424.2 114.8 L424.4 118.8 L424.6 122.8 L424.8 126.8 L425.0 130.9 L425.2 134.9 L425.3 138.9 L425.5 142.9 L425.7 147.0 L425.9 151.0 L426.1 155.0 L426.8 159.0 L427.5 163.0 L428.2 167.0 L428.9 171.0 L429.6 175.0 L430.3 179.0 L431.0 183.0 L431.7 187.0 L432.4 191.0 L433.1 195.0 L433.8 199.0 L434.5 203.0 L435.0 206.0 M439.8 227.8 L441.1 231.6 L442.4 235.5 L443.6 239.3 L444.9 243.2 L446.2 247.0 L447.5 250.9 L448.8 254.7 L450.1 258.6 L451.3 262.4 L452.6 266.2 L453.9 270.1 L455.2 273.9 L456.5 277.8 L457.7 281.6 L459.0 285.5 L460.3 289.3 L462.2 292.9 L464.0 296.5 L465.9 300.1 L467.7 303.8 L469.6 307.4 L471.4 311.0 L473.3 314.6 L475.2 318.2 L477.0 321.8 L478.9 325.5 L480.7 329.1 L482.6 332.7 L484.4 336.3 L486.9 339.5 L489.7 342.6 L492.4 345.8 L495.1 348.9 L497.9 352.0 L500.6 355.1 L503.3 358.2 L505.5 360.4 M522.5 376.1 L525.5 378.8 L528.5 381.6 L531.5 384.3 L534.5 387.1 L537.5 389.8 L540.5 392.5 L543.5 395.3 L546.5 398.0 L549.5 400.8 L552.5 403.5 L555.8 405.8 L559.2 408.0 L562.6 410.2 L566.0 412.4 L569.4 414.6 L572.8 416.7 L576.2 418.9 L579.6 421.1 L583.1 423.2 L586.6 425.4 L590.0 427.5 L593.5 429.6 L597.0 431.8 L600.5 433.9 L603.9 436.1 L607.4 438.2 L610.9 440.3 L614.3 442.3 L617.8 444.3 L621.3 446.3 L625.3 446.2 L629.3 446.1 L633.3 446.0 L637.3 445.9 L641.3 445.8 L645.3 445.7 L647.3 445.7 M670.3 445.1 L674.3 445.0 L678.3 444.9 L682.3 444.8 L686.3 444.7 L690.3 444.5 L694.3 444.1 L698.3 443.8 L702.3 443.4 L706.3 443.0 L710.3 442.7 L714.4 442.3 L718.4 441.9 L722.4 441.6 L726.4 441.2 L730.4 440.8 L734.4 440.5 L738.4 440.1 L742.4 439.7 L746.4 439.4 L750.4 439.0 L754.5 438.6 L758.5 438.3 L762.5 437.9 L766.5 437.6 L770.5 437.2 L774.5 436.8 L778.5 436.5 L782.5 436.1 L786.5 435.7 L790.5 435.4 L794.5 435.0 L798.6 434.6 L802.6 434.3 L806.6 433.9 L810.6 433.5 L814.6 433.2 L818.6 432.8 M841.6 429.8 L845.6 429.3 L849.6 428.7 L853.6 428.2 L857.6 427.7 L861.6 427.2 L865.6 426.6 L869.6 426.1 L873.6 425.6 L877.6 425.0 L881.6 424.5 L885.6 424.0 L889.6 423.5 L893.6 422.9 L894.6 422.8 M475.9 19.5 L475.9 23.5 L476.0 27.5 L476.0 31.5 L476.1 35.5 L476.1 39.5 L476.2 43.5 M476.5 66.6 L476.5 70.6 L476.6 74.6 L476.6 78.6 L476.7 82.6 L476.7 86.6 L477.3 90.6 L477.8 94.5 L478.4 98.5 L478.9 102.5 L479.5 106.4 L480.0 110.4 L480.6 114.4 L481.2 118.3 L481.7 122.3 L482.3 126.3 L482.8 130.2 L483.4 134.2 L483.9 138.1 L484.5 142.1 L485.0 146.1 L485.6 150.0 L486.2 154.0 L487.4 157.8 L488.8 161.6 L490.2 165.4 L491.7 169.1 L493.1 172.9 L494.6 176.6 L496.0 180.4 L497.4 184.2 L498.9 187.9 L500.3 191.7 L501.7 195.5 L503.2 199.2 L504.6 203.0 L506.0 206.8 L507.5 210.5 M518.3 231.3 L520.5 234.7 L522.7 238.0 L524.9 241.3 L527.1 244.7 L529.4 248.0 L531.6 251.3 L533.8 254.7 L536.0 258.0 L538.2 261.3 L540.5 264.7 L542.7 268.0 L544.9 271.3 L547.1 274.7 L549.3 278.0 L551.6 281.3 L553.8 284.7 L556.0 288.0 L558.9 290.7 L561.9 293.5 L564.8 296.2 L567.8 298.9 L570.7 301.6 L573.6 304.4 L576.6 307.1 L579.5 309.8 L582.5 312.6 L585.4 315.3 L588.3 318.0 L591.3 320.8 L594.2 323.5 L597.2 326.2 L600.1 329.0 L603.0 331.7 L606.0 334.4 L608.9 337.1 L611.9 339.9 L614.1 341.9 M635.3 347.4 L639.3 347.9 L643.3 348.3 L647.3 348.7 L651.3 349.1 L655.3 349.5 L659.3 349.9 L663.3 350.3 L667.3 350.7 L671.3 351.1 L675.3 351.6 L679.3 352.0 L683.3 352.4 L687.3 352.8 L691.3 353.0 L695.3 352.9 L699.3 352.8 L703.3 352.7 L707.3 352.6 L711.3 352.5 L715.3 352.5 L719.3 352.4 L723.3 352.3 L727.3 352.2 L731.3 352.1 L735.3 352.1 L739.3 352.0 L743.3 351.9 L747.3 351.8 L751.3 351.7 L755.3 351.6 L759.3 351.6 L763.4 351.5 L767.4 351.4 L771.4 351.3 L775.5 351.2 L779.5 351.2 L783.6 351.1 M806.8 350.6 L810.8 350.5 L814.9 350.5 L818.9 350.4 L823.0 350.3 L827.0 350.2 L831.0 350.0 L835.1 349.8 L839.1 349.6 L843.1 349.4 L847.2 349.1 L851.2 348.9 L855.2 348.7 L859.3 348.5 L863.3 348.2 L867.4 348.0 L871.4 347.8 L875.4 347.6 L879.5 347.3 L883.5 347.1 L887.5 346.9 L891.6 346.7 L894.6 346.5 M532.0 19.5 L532.5 23.5 L532.9 27.5 L533.4 31.5 L533.8 35.5 L534.3 39.5 L534.7 43.5 L535.2 47.5 L535.3 48.5 M537.4 67.6 L537.9 71.6 L538.4 75.6 L538.8 79.6 L539.3 83.6 L539.9 87.6 L541.1 91.4 L542.4 95.3 L543.6 99.1 L544.8 103.0 L546.1 106.8 L547.3 110.7 L548.5 114.5 L549.8 118.4 L551.0 122.2 L552.2 126.1 L553.5 130.0 L554.7 133.8 L555.9 137.7 L557.2 141.5 L558.4 145.4 L559.6 149.2 L560.9 153.1 L562.6 156.7 L564.7 160.2 L566.8 163.6 L568.9 167.1 L571.0 170.5 L573.1 174.0 L575.2 177.4 L577.3 180.8 L579.4 184.3 L581.5 187.7 L583.6 191.2 L585.7 194.6 L587.8 198.1 L589.9 201.5 L592.0 205.0 L593.6 207.6 M603.9 223.7 L606.5 226.9 L609.1 230.1 L611.6 233.3 L614.2 236.6 L616.8 239.8 L619.4 243.0 L622.3 245.6 L626.2 246.4 L630.2 247.3 L634.1 248.1 L638.1 248.9 L642.0 249.7 L645.9 250.5 L649.9 251.4 L653.8 252.2 L657.8 253.0 L661.7 253.8 L665.6 254.7 L669.6 255.5 L673.5 256.3 L677.5 257.1 L681.4 258.0 L685.4 258.8 L689.3 259.6 L693.3 260.1 L697.3 260.6 L701.3 261.1 L705.3 261.6 L709.3 262.1 L713.3 262.6 L717.3 263.1 L721.3 263.6 L725.3 264.0 L729.3 264.5 L733.3 265.0 L737.3 265.5 L741.3 266.0 L745.3 266.5 M763.4 268.3 L767.4 268.4 L771.5 268.6 L775.5 268.8 L779.6 269.0 L783.6 269.1 L787.7 269.3 L791.8 269.5 L795.8 269.6 L799.9 269.8 L803.9 270.0 L808.0 270.2 L812.0 270.3 L816.1 270.5 L820.1 270.7 L824.2 270.9 L828.2 271.0 L832.2 271.2 L836.3 271.3 L840.3 271.5 L844.3 271.7 L848.3 271.8 L852.4 272.0 L856.4 272.2 L860.4 272.3 L864.4 272.5 L868.4 272.6 L872.5 272.8 L876.5 273.0 L880.5 273.1 L884.5 273.3 L888.6 273.5 L892.6 273.6 L894.6 273.7 M590.2 19.5 L591.1 23.4 L591.5 25.4 M595.7 44.2 L596.6 48.1 L597.5 52.1 L598.4 56.0 L599.2 60.0 L600.1 63.9 L601.0 67.9 L601.9 71.8 L602.8 75.7 L603.7 79.7 L604.5 83.6 L605.6 87.5 L607.3 91.2 L609.0 95.0 L610.7 98.7 L612.4 102.4 L614.1 106.1 L615.8 109.8 L617.5 113.5 L619.2 117.3 L620.9 121.0 L623.9 123.4 L627.4 125.4 L630.9 127.4 L634.4 129.4 L637.9 131.4 L641.4 133.4 L644.9 135.4 L648.4 137.4 L651.9 139.3 L655.4 141.3 L658.9 143.3 L662.4 145.3 L665.9 147.3 L669.4 149.3 L672.9 151.3 L676.4 153.3 L679.9 155.3 L683.7 156.7 M700.9 162.0 L704.7 163.2 L708.5 164.4 L712.4 165.5 L716.2 166.7 L720.0 167.9 L723.8 169.1 L727.7 170.3 L731.5 171.4 L735.3 172.6 L739.1 173.8 L743.0 175.0 L746.8 176.2 L750.6 177.3 L754.4 178.5 L758.3 179.6 L762.2 180.4 L766.1 181.2 L770.1 182.1 L774.0 182.9 L777.9 183.7 L781.8 184.5 L785.8 185.3 L789.7 186.1 L793.6 187.0 L797.6 187.8 L801.5 188.6 L805.4 189.4 L809.3 190.2 L813.3 191.0 L817.2 191.9 L821.1 192.7 L825.1 193.5 L829.0 194.2 L833.0 194.7 L836.9 195.2 L840.9 195.7 L844.9 196.3 L848.9 196.8 L849.9 196.9 M867.8 199.2 L871.7 199.7 L875.7 200.2 L879.7 200.7 L883.7 201.2 L887.6 201.7 L891.6 202.2 L894.6 202.6 M680.8 19.5 L683.9 22.1 L687.0 24.6 L689.4 26.5 M703.4 38.1 L706.6 40.6 L709.7 43.2 L712.8 45.7 L715.9 48.3 L719.0 50.9 L722.2 53.4 L725.3 56.0 L728.4 58.5 L731.5 61.1 L734.7 63.6 L737.8 66.2 L740.9 68.8 L744.0 71.3 L747.2 73.9 L750.3 76.4 L753.4 79.0 L756.5 81.6 L760.1 83.4 L763.8 84.9 L767.5 86.5 L771.3 88.1 L775.0 89.7 L778.7 91.2 L782.4 92.8 L786.1 94.4 L789.9 95.9 L793.6 97.5 L797.3 99.1 L801.0 100.6 L804.7 102.2 L808.5 103.8 L812.2 105.3 L815.9 106.9 L819.6 108.5 L823.3 110.0 L827.1 111.6 L830.9 112.9 L833.8 113.7 M852.1 119.2 L856.0 120.3 L859.9 121.5 L863.7 122.6 L867.6 123.8 L871.4 124.9 L875.3 126.1 L879.2 127.2 L883.0 128.4 L886.9 129.5 L890.7 130.7 L894.6 131.8 M820.1 19.5 L823.7 21.4 L827.3 23.2 L830.9 25.1 M847.9 33.9 L851.5 35.8 L855.1 37.6 L858.7 39.5 L862.3 41.4 L865.9 43.2 L869.5 45.1 L873.1 46.9 L876.6 48.8 L880.2 50.7 L883.8 52.5 L887.4 54.4 L891.0 56.2 L894.6 58.1" fill="none" stroke="#000" stroke-width="2.5" stroke-linejoin="round"/>
<text transform="translate(128.8 51.0) rotate(-90)" class="cl">-14</text>
<text transform="translate(128.8 222.3) rotate(-90)" class="cl">-14</text>
<text transform="translate(128.8 391.8) rotate(90)" class="cl">-14</text>
<text transform="translate(140.3 562.0) rotate(79)" class="cl">-14</text>
<text transform="translate(202.3 51.8) rotate(-90)" class="cl">-12</text>
<text transform="translate(202.3 222.0) rotate(-90)" class="cl">-12</text>
<text transform="translate(205.0 392.7) rotate(88)" class="cl">-12</text>
<text transform="translate(237.4 560.8) rotate(70)" class="cl">-12</text>
<text transform="translate(263.9 52.0) rotate(-90)" class="cl">-10</text>
<text transform="translate(264.0 223.0) rotate(-90)" class="cl">-10</text>
<text transform="translate(277.8 395.4) rotate(82)" class="cl">-10</text>
<text transform="translate(331.1 559.0) rotate(64)" class="cl">-10</text>
<text transform="translate(320.2 62.5) rotate(-90)" class="cl">-8</text>
<text transform="translate(323.0 236.9) rotate(85)" class="cl">-8</text>
<text transform="translate(353.0 405.5) rotate(72)" class="cl">-8</text>
<text transform="translate(436.3 554.5) rotate(42)" class="cl">-8</text>
<text transform="translate(775.7 617.4) rotate(-11)" class="cl">-8</text>
<text transform="translate(372.8 37.3) rotate(-90)" class="cl">-6</text>
<text transform="translate(377.0 210.2) rotate(87)" class="cl">-6</text>
<text transform="translate(417.1 377.4) rotate(60)" class="cl">-6</text>
<text transform="translate(530.0 501.2) rotate(30)" class="cl">-6</text>
<text transform="translate(693.0 536.1) rotate(-6)" class="cl">-6</text>
<text transform="translate(862.6 511.2) rotate(-10)" class="cl">-6</text>
<text transform="translate(422.6 47.0) rotate(90)" class="cl">-4</text>
<text transform="translate(437.0 217.0) rotate(78)" class="cl">-4</text>
<text transform="translate(513.6 368.6) rotate(42)" class="cl">-4</text>
<text transform="translate(658.7 444.9) rotate(-1)" class="cl">-4</text>
<text transform="translate(830.3 430.5) rotate(-7)" class="cl">-4</text>
<text transform="translate(476.0 55.0) rotate(90)" class="cl">-2</text>
<text transform="translate(512.3 221.0) rotate(62)" class="cl">-2</text>
<text transform="translate(623.6 347.4) rotate(10)" class="cl">-2</text>
<text transform="translate(795.5 350.2) rotate(-1)" class="cl">-2</text>
<text transform="translate(535.8 57.9) rotate(82)" class="cl">0</text>
<text transform="translate(598.4 216.0) rotate(55)" class="cl">0</text>
<text transform="translate(754.4 265.8) rotate(5)" class="cl">0</text>
<text transform="translate(593.0 35.0) rotate(77)" class="cl">2</text>
<text transform="translate(692.1 159.5) rotate(20)" class="cl">2</text>
<text transform="translate(858.7 196.9) rotate(8)" class="cl">2</text>
<text transform="translate(695.0 34.0) rotate(38)" class="cl">4</text>
<text transform="translate(843.1 116.8) rotate(17)" class="cl">4</text>
<text transform="translate(839.4 29.8) rotate(27)" class="cl">6</text></g>
<g id="cb" style="font-size:11.3px"><path d="M73.8 826.5 L77.3 824.6 L80.9 822.6 L84.4 820.7 L86.2 819.7 M102.0 811.1 L105.6 809.1 L109.1 807.2 L112.6 805.3 L116.2 803.3 L119.7 801.4 L123.2 799.5 L126.8 797.5 L130.3 795.6 L133.8 793.7 L137.3 791.8 L140.9 789.8 L144.4 787.9 M73.8 899.5 L77.8 899.1 M95.7 897.1 L99.7 896.7 L103.7 896.3 L107.7 895.9 L111.6 895.4 L115.6 895.0 L119.6 894.6 L123.6 894.1 L127.6 893.7 L131.5 893.3 L135.5 892.9 L139.5 892.4 L143.3 891.5 L146.4 889.0 L149.6 886.5 L152.7 884.0 L155.9 881.5 L159.1 879.0 L162.2 876.5 L165.4 874.0 L168.5 871.5 L171.7 869.0 L174.8 866.5 L178.0 864.0 L181.1 861.5 L184.3 859.0 L187.4 856.5 L190.2 853.6 L192.6 850.4 L195.1 847.2 L197.5 844.0 L199.9 840.9 L202.3 837.7 L204.7 834.5 L207.2 831.3 L209.6 828.1 L211.6 824.6 L213.2 820.9 L214.8 817.1 L215.6 815.2 M222.8 798.3 L224.4 794.5 L226.0 790.7 L227.2 787.9 M73.8 970.0 L77.8 970.5 L81.8 971.0 L85.7 971.5 L89.7 972.0 L93.7 972.6 L97.7 973.1 L100.7 973.4 M118.6 975.7 L122.6 976.2 L126.6 976.8 L130.6 977.3 L134.5 977.8 L138.5 978.3 L142.5 978.8 L146.2 977.4 L150.0 976.0 L153.7 974.5 L157.5 973.1 L161.2 971.7 L165.0 970.3 L168.7 968.8 L172.4 967.4 L176.2 966.0 L179.9 964.6 L183.7 963.1 L187.4 961.7 L191.2 960.3 L194.9 958.9 L198.6 957.4 L202.4 956.0 L206.1 954.6 L209.9 953.2 L213.0 950.7 L215.9 947.8 L218.9 945.0 L221.8 942.1 L224.7 939.3 L227.6 936.4 L230.6 933.6 L233.5 930.7 L236.4 927.9 L239.4 925.0 L242.3 922.2 L244.3 918.7 L246.4 915.2 L248.4 911.7 L248.9 910.8 M258.1 895.1 L260.2 891.6 L262.2 888.1 L264.3 884.6 L266.3 881.1 L268.3 877.6 L270.4 874.1 L272.4 870.6 L274.5 867.1 L276.5 863.6 L278.6 860.1 L280.6 856.6 L281.4 852.7 L282.2 848.7 L282.9 844.8 L283.7 840.9 L284.5 837.0 L285.3 833.0 L286.0 829.1 L286.8 825.2 L287.6 821.3 L288.4 817.3 L289.1 813.4 L289.9 809.5 L290.7 805.6 L291.5 801.6 L292.3 797.7 L293.0 793.8 L293.8 789.9 L294.2 787.9 M73.8 1041.5 L77.7 1042.6 L81.5 1043.8 L85.4 1044.9 L89.3 1046.0 L93.2 1047.1 L94.1 1047.4 M111.5 1052.5 L115.4 1053.6 L119.3 1054.7 L123.1 1055.9 L127.0 1057.0 L130.9 1058.1 L134.8 1059.2 L138.6 1060.4 L142.5 1061.5 L146.5 1061.1 L150.5 1060.7 L154.6 1060.2 L158.6 1059.8 L162.6 1059.4 L166.6 1059.0 L170.6 1058.6 L174.6 1058.2 L178.7 1057.7 L182.7 1057.3 L186.7 1056.9 L190.7 1056.5 L194.7 1056.1 L198.7 1055.7 L202.8 1055.2 L206.8 1054.8 L210.8 1054.4 L214.3 1052.4 L217.7 1050.3 L221.2 1048.3 L224.7 1046.3 L228.1 1044.2 L231.6 1042.2 L235.0 1040.2 L238.5 1038.1 L242.0 1036.1 L245.4 1034.0 L248.9 1032.0 L252.4 1030.0 L255.8 1027.9 M271.4 1018.8 L274.9 1016.7 L278.3 1014.7 L281.4 1012.0 L284.3 1009.1 L287.2 1006.2 L290.1 1003.3 L292.9 1000.5 L295.8 997.6 L298.7 994.7 L301.6 991.8 L304.3 988.7 L306.4 985.3 L308.6 981.9 L310.7 978.5 L312.8 975.1 L314.9 971.7 L317.0 968.3 L319.1 964.9 L321.2 961.4 L323.3 958.0 L325.4 954.6 L327.6 951.2 L329.7 947.8 L331.8 944.4 L333.9 941.0 L336.0 937.6 L338.1 934.1 L340.2 930.7 L342.3 927.3 L344.4 923.9 L346.0 920.2 L346.9 916.3 L347.8 912.3 L348.8 908.4 L349.7 904.5 L350.6 900.5 L351.5 896.6 L352.5 892.6 L352.7 891.7 M356.9 873.9 L357.8 870.0 L358.7 866.0 L359.7 862.1 L360.6 858.2 L361.3 854.2 L361.3 850.2 L361.3 846.2 L361.3 842.1 L361.3 838.1 L361.3 834.1 L361.3 830.1 L361.3 826.1 L361.3 822.1 L361.3 818.0 L361.3 814.0 L361.3 810.0 L361.3 806.0 L361.3 802.0 L361.3 797.9 L361.3 793.9 L361.3 789.9 L361.3 787.9 M73.8 1114.5 L77.5 1116.1 L81.2 1117.6 L84.9 1119.2 L88.7 1120.8 L92.4 1122.3 L94.2 1123.1 M113.7 1131.4 L117.4 1132.9 L121.1 1134.5 L124.9 1136.1 L128.6 1137.6 L132.3 1139.2 L136.0 1140.8 L139.7 1142.3 L143.5 1143.6 L147.5 1143.9 L151.5 1144.2 L155.6 1144.6 L159.6 1144.9 L163.6 1145.2 L167.6 1145.5 L171.6 1145.8 L175.6 1146.2 L179.7 1146.5 L183.7 1146.8 L187.7 1147.1 L191.7 1147.5 L195.7 1147.8 L199.8 1148.1 L203.8 1148.4 L207.8 1148.8 L211.8 1148.7 L215.6 1147.5 L219.4 1146.4 L223.3 1145.2 L227.1 1144.0 L230.9 1142.9 L234.8 1141.7 L238.6 1140.5 L242.4 1139.4 L246.3 1138.2 L250.1 1137.0 L253.9 1135.9 L257.8 1134.7 M278.9 1128.3 L282.7 1127.1 L286.5 1125.9 L290.4 1124.8 L294.2 1123.6 L297.7 1121.5 L301.1 1119.5 L304.6 1117.4 L308.0 1115.3 L311.5 1113.3 L314.9 1111.2 L318.4 1109.1 L321.9 1107.1 L325.3 1105.0 L328.8 1102.9 L332.2 1100.9 L335.7 1098.8 L339.1 1096.7 L342.3 1094.2 L345.3 1091.6 L348.3 1088.9 L351.3 1086.3 L354.3 1083.7 L357.4 1081.0 L360.4 1078.4 L363.4 1075.7 L366.4 1073.1 L369.5 1070.4 L372.5 1067.8 L375.5 1065.2 L378.5 1062.5 L381.5 1059.9 L384.4 1057.1 L386.7 1053.8 L389.1 1050.5 L391.4 1047.2 L393.8 1043.9 L396.1 1040.6 L397.3 1039.0 M410.1 1020.9 L412.5 1017.6 L414.8 1014.3 L417.2 1011.0 L419.5 1007.7 L421.9 1004.4 L424.2 1001.1 L426.5 997.8 L428.9 994.5 L431.2 991.2 L432.9 987.6 L433.9 983.7 L434.9 979.8 L435.8 975.9 L436.8 972.0 L437.8 968.1 L438.8 964.2 L439.8 960.3 L440.8 956.4 L441.8 952.5 L442.7 948.6 L443.7 944.7 L444.7 940.8 L445.7 936.9 L446.7 932.9 L447.7 929.0 L448.7 925.1 L449.4 921.2 L449.4 917.2 L449.5 913.2 L449.5 909.2 L449.5 905.2 L449.5 901.2 L449.5 897.1 L449.6 893.1 L449.6 889.1 L449.6 885.1 L449.6 881.1 M449.8 859.1 L449.8 855.0 L449.8 851.0 L449.8 847.0 L449.9 843.0 L449.9 839.0 L449.9 835.0 L449.9 831.0 L450.0 827.0 L450.0 823.0 L450.0 819.0 L450.0 815.0 L450.1 811.0 L450.1 806.9 L450.1 802.9 L450.1 798.9 L450.2 794.9 L450.2 790.9 L450.2 787.9 M73.8 1192.2 L77.4 1194.0 L81.0 1195.8 L84.6 1197.6 L88.3 1199.3 L91.9 1201.1 L95.5 1202.9 L99.1 1204.7 L102.7 1206.5 L106.3 1208.3 L110.0 1210.0 L113.6 1211.8 L117.2 1213.6 L120.8 1215.4 L124.4 1217.2 L128.0 1219.0 L131.7 1220.7 L135.3 1222.5 L138.9 1224.3 L142.5 1226.1 L146.5 1226.9 L150.4 1227.8 L154.4 1228.6 L158.3 1229.5 L162.3 1230.3 L166.3 1231.1 L170.2 1232.0 L174.2 1232.8 L178.1 1233.7 L182.1 1234.5 L186.1 1235.3 L190.0 1236.2 L194.0 1237.0 L197.9 1237.9 L201.9 1238.7 L205.9 1239.5 L209.8 1240.4 L213.8 1240.4 L217.8 1240.2 L221.9 1239.9 L225.9 1239.7 L229.9 1239.5 L233.9 1239.2 L234.9 1239.2 M257.1 1237.8 L261.1 1237.6 L265.1 1237.3 L269.1 1237.1 L273.2 1236.9 L277.2 1236.6 L281.2 1236.0 L285.1 1235.1 L289.1 1234.2 L293.0 1233.3 L296.9 1232.4 L300.9 1231.5 L304.8 1230.6 L308.8 1229.7 L312.7 1228.8 L316.7 1227.9 L320.6 1227.0 L324.5 1226.1 L328.5 1225.1 L332.4 1224.2 L336.4 1223.3 L340.3 1222.4 L344.3 1221.5 L348.2 1220.6 L351.9 1219.1 L355.7 1217.7 L359.4 1216.2 L363.2 1214.8 L366.9 1213.3 L370.6 1211.9 L374.4 1210.5 L378.1 1209.0 L381.9 1207.5 L385.6 1206.1 L389.3 1204.6 L393.1 1203.2 L396.8 1201.8 L400.5 1200.3 M422.5 1194.0 L426.6 1193.8 L430.6 1193.5 L434.6 1193.3 L438.6 1193.0 L442.7 1192.7 L446.7 1192.5 L450.7 1192.2 L454.7 1192.0 L458.7 1191.7 L462.8 1191.4 L466.8 1191.2 L470.8 1190.9 L474.8 1190.7 L478.9 1190.4 L482.9 1190.1 L486.8 1189.2 L490.5 1187.7 L494.2 1186.1 L497.9 1184.5 L501.6 1183.0 L505.4 1181.4 L509.1 1179.8 L512.8 1178.2 L516.5 1176.7 L520.3 1175.1 L524.0 1173.5 L527.7 1172.0 L531.4 1170.4 L535.1 1168.8 L538.9 1167.3 L542.6 1165.7 L546.3 1164.1 L550.0 1162.6 L553.4 1160.4 L556.3 1157.7 L559.3 1155.0 L562.2 1152.2 L562.9 1151.5 M579.1 1136.5 L582.0 1133.8 L585.0 1131.1 L587.9 1128.3 L590.9 1125.6 L592.2 1121.9 L592.9 1118.0 L593.7 1114.1 L594.5 1110.1 L595.3 1106.2 L596.0 1102.2 L596.8 1098.3 L597.6 1094.4 L598.3 1090.4 L599.1 1086.5 L599.9 1082.5 L600.7 1078.6 L601.4 1074.7 L602.2 1070.7 L603.0 1066.8 L603.7 1062.8 L604.5 1058.9 L604.7 1054.9 L604.7 1050.9 L604.7 1046.9 L604.7 1042.9 L604.7 1038.9 L604.7 1034.9 L604.7 1030.9 L604.7 1026.9 L604.7 1022.9 L604.7 1018.9 L604.7 1014.9 L604.7 1010.9 L604.7 1006.9 L604.7 1002.9 L604.7 998.9 L604.7 994.9 L604.7 993.9 M604.7 971.9 L604.7 967.9 L604.7 963.9 L604.7 959.9 L604.7 955.9 L604.7 951.9 L604.7 947.9 L604.7 943.9 L604.7 939.9 L604.7 935.9 L604.7 931.9 L604.7 927.9 L604.7 923.9 L604.7 919.9 L604.7 915.9 L604.7 911.9 L604.7 907.9 L604.7 903.9 L604.7 899.9 L604.7 895.9 L604.7 891.9 L604.7 887.9 L604.7 883.9 L604.7 879.9 L604.7 875.9 L604.7 871.9 L604.7 867.9 L604.7 863.9 L604.7 859.9 L604.7 855.9 L604.7 851.9 L604.7 847.9 L604.7 843.9 L604.7 839.9 L604.7 835.9 L604.7 831.9 L604.7 827.9 L604.7 823.9 M604.7 801.9 L604.7 797.9 L604.7 793.9 L604.7 789.9 L604.7 787.9 M73.8 1275.3 L77.3 1277.3 L80.8 1279.2 L84.4 1281.2 L87.9 1283.2 L91.4 1285.1 L94.9 1287.1 L98.5 1289.0 L102.0 1291.0 L102.9 1291.5 M122.2 1302.3 L125.8 1304.3 L129.3 1306.2 L132.8 1308.2 L136.3 1310.2 L139.9 1312.1 L143.5 1313.9 L147.3 1315.0 L151.2 1316.2 L155.0 1317.4 L158.9 1318.5 L162.7 1319.7 L166.5 1320.8 L170.4 1322.0 L174.2 1323.1 L178.1 1324.3 L181.9 1325.4 L185.8 1326.6 L189.6 1327.7 L193.5 1328.9 L197.3 1330.1 L201.2 1331.2 L205.0 1332.4 L208.9 1333.5 L212.8 1334.3 L216.8 1334.6 L220.9 1335.0 L224.9 1335.3 L228.9 1335.7 L232.9 1336.0 L237.0 1336.4 L241.0 1336.7 L245.0 1337.0 L249.0 1337.4 L253.0 1337.7 L257.1 1338.1 L261.1 1338.4 L265.1 1338.8 M287.2 1339.8 L291.3 1339.7 L295.3 1339.6 L299.3 1339.5 L303.3 1339.3 L307.4 1339.2 L311.4 1339.1 L315.4 1339.0 L319.4 1338.9 L323.5 1338.8 L327.5 1338.7 L331.5 1338.6 L335.5 1338.5 L339.6 1338.4 L343.6 1338.3 L347.6 1338.2 L351.6 1338.0 L355.6 1337.9 L359.7 1337.8 L363.7 1337.7 L367.7 1337.6 L371.7 1337.5 L375.8 1337.4 L379.8 1337.3 L383.8 1337.2 L387.8 1337.1 L391.9 1337.0 L395.9 1336.8 L399.9 1336.7 L403.9 1336.6 L408.0 1336.5 L412.0 1336.4 L416.0 1336.3 L419.8 1337.6 L423.6 1339.0 L427.3 1340.3 L431.1 1341.7 L434.9 1343.0 L435.8 1343.4 M457.5 1351.1 L461.3 1352.5 L465.1 1353.8 L468.9 1355.2 L472.6 1356.5 L476.4 1357.9 L480.2 1359.2 L484.0 1360.6 L487.8 1361.9 L491.6 1363.2 L495.4 1364.5 L499.3 1365.8 L503.1 1367.1 L506.9 1368.4 L510.7 1369.7 L514.6 1371.0 L518.4 1372.2 L522.2 1373.5 L526.1 1374.8 L529.9 1376.1 L533.7 1377.4 L537.5 1378.7 L541.4 1380.0 L545.2 1381.3 L549.0 1382.6 L552.8 1384.0 L556.5 1385.6 L560.1 1387.2 L563.8 1388.8 L567.5 1390.5 L571.1 1392.1 L574.8 1393.7 L575.7 1394.1 M73.8 1364.5 L77.3 1366.5 L80.7 1368.6 L83.3 1370.1 M102.3 1381.3 L105.8 1383.4 L109.2 1385.4 L112.7 1387.5 L116.1 1389.5 L119.6 1391.5 L123.0 1393.6 L123.9 1394.1" fill="none" stroke="#000" stroke-width="2.5" stroke-linejoin="round"/>
<text transform="translate(93.2 814.7) rotate(-28)" class="cl">6</text>
<text transform="translate(87.0 897.6) rotate(-6)" class="cl">4</text>
<text transform="translate(219.6 807.3) rotate(-67)" class="cl">4</text>
<text transform="translate(109.7 974.7) rotate(8)" class="cl">2</text>
<text transform="translate(253.8 903.0) rotate(-60)" class="cl">2</text>
<text transform="translate(102.8 1049.2) rotate(16)" class="cl">0</text>
<text transform="translate(263.3 1022.4) rotate(-30)" class="cl">0</text>
<text transform="translate(355.0 882.5) rotate(-77)" class="cl">0</text>
<text transform="translate(104.7 1125.5) rotate(23)" class="cl">-2</text>
<text transform="translate(269.1 1133.7) rotate(-17)" class="cl">-2</text>
<text transform="translate(402.9 1029.2) rotate(-52)" class="cl">-2</text>
<text transform="translate(450.0 870.2) rotate(-90)" class="cl">-2</text>
<text transform="translate(245.6 1238.4) rotate(-3)" class="cl">-4</text>
<text transform="translate(411.1 1196.0) rotate(-13)" class="cl">-4</text>
<text transform="translate(571.1 1144.0) rotate(-43)" class="cl">-4</text>
<text transform="translate(604.7 983.0) rotate(-90)" class="cl">-4</text>
<text transform="translate(604.7 812.8) rotate(90)" class="cl">-4</text>
<text transform="translate(113.2 1296.6) rotate(29)" class="cl">-6</text>
<text transform="translate(276.5 1339.6) rotate(1)" class="cl">-6</text>
<text transform="translate(446.6 1347.8) rotate(20)" class="cl">-6</text>
<text transform="translate(92.4 1376.0) rotate(30)" class="cl">-8</text></g>
<rect x="905.4" y="19.50" width="24.3" height="606.50" fill="#f9fb0e"/>
<rect x="905.4" y="28.98" width="24.3" height="597.02" fill="#f6f313"/>
<rect x="905.4" y="38.45" width="24.3" height="587.55" fill="#f5eb18"/>
<rect x="905.4" y="47.93" width="24.3" height="578.07" fill="#f5e41d"/>
<rect x="905.4" y="57.41" width="24.3" height="568.59" fill="#f5de21"/>
<rect x="905.4" y="66.88" width="24.3" height="559.12" fill="#f7d826"/>
<rect x="905.4" y="76.36" width="24.3" height="549.64" fill="#fad32a"/>
<rect x="905.4" y="85.84" width="24.3" height="540.16" fill="#fcce2e"/>
<rect x="905.4" y="95.31" width="24.3" height="530.69" fill="#fec832"/>
<rect x="905.4" y="104.79" width="24.3" height="521.21" fill="#ffc337"/>
<rect x="905.4" y="114.27" width="24.3" height="511.73" fill="#fdbe3d"/>
<rect x="905.4" y="123.74" width="24.3" height="502.26" fill="#f8bb44"/>
<rect x="905.4" y="133.22" width="24.3" height="492.78" fill="#f1b94a"/>
<rect x="905.4" y="142.70" width="24.3" height="483.30" fill="#e9b94e"/>
<rect x="905.4" y="152.17" width="24.3" height="473.83" fill="#e1b952"/>
<rect x="905.4" y="161.65" width="24.3" height="464.35" fill="#d9ba56"/>
<rect x="905.4" y="171.12" width="24.3" height="454.88" fill="#d1bb59"/>
<rect x="905.4" y="180.60" width="24.3" height="445.40" fill="#c8bc5d"/>
<rect x="905.4" y="190.08" width="24.3" height="435.92" fill="#c0bc60"/>
<rect x="905.4" y="199.55" width="24.3" height="426.45" fill="#b7bd64"/>
<rect x="905.4" y="209.03" width="24.3" height="416.97" fill="#aebe67"/>
<rect x="905.4" y="218.51" width="24.3" height="407.49" fill="#a5be6b"/>
<rect x="905.4" y="227.98" width="24.3" height="398.02" fill="#9cbf6f"/>
<rect x="905.4" y="237.46" width="24.3" height="388.54" fill="#92bf73"/>
<rect x="905.4" y="246.94" width="24.3" height="379.06" fill="#87bf77"/>
<rect x="905.4" y="256.41" width="24.3" height="369.59" fill="#7cbf7b"/>
<rect x="905.4" y="265.89" width="24.3" height="360.11" fill="#71bf80"/>
<rect x="905.4" y="275.37" width="24.3" height="350.63" fill="#65be86"/>
<rect x="905.4" y="284.84" width="24.3" height="341.16" fill="#59bd8c"/>
<rect x="905.4" y="294.32" width="24.3" height="331.68" fill="#4dbc92"/>
<rect x="905.4" y="303.80" width="24.3" height="322.20" fill="#42bb98"/>
<rect x="905.4" y="313.27" width="24.3" height="312.73" fill="#38b99e"/>
<rect x="905.4" y="322.75" width="24.3" height="303.25" fill="#2eb7a4"/>
<rect x="905.4" y="332.23" width="24.3" height="293.77" fill="#25b5a9"/>
<rect x="905.4" y="341.70" width="24.3" height="284.30" fill="#1db3af"/>
<rect x="905.4" y="351.18" width="24.3" height="274.82" fill="#15b1b4"/>
<rect x="905.4" y="360.66" width="24.3" height="265.34" fill="#0faeb9"/>
<rect x="905.4" y="370.13" width="24.3" height="255.87" fill="#0aacbe"/>
<rect x="905.4" y="379.61" width="24.3" height="246.39" fill="#07a9c2"/>
<rect x="905.4" y="389.09" width="24.3" height="236.91" fill="#06a7c6"/>
<rect x="905.4" y="398.56" width="24.3" height="227.44" fill="#06a4ca"/>
<rect x="905.4" y="408.04" width="24.3" height="217.96" fill="#06a0cd"/>
<rect x="905.4" y="417.52" width="24.3" height="208.48" fill="#079ccf"/>
<rect x="905.4" y="426.99" width="24.3" height="199.01" fill="#0998d1"/>
<rect x="905.4" y="436.47" width="24.3" height="189.53" fill="#0c93d2"/>
<rect x="905.4" y="445.95" width="24.3" height="180.05" fill="#108ed2"/>
<rect x="905.4" y="455.42" width="24.3" height="170.58" fill="#1389d3"/>
<rect x="905.4" y="464.90" width="24.3" height="161.10" fill="#1485d4"/>
<rect x="905.4" y="474.38" width="24.3" height="151.62" fill="#1481d6"/>
<rect x="905.4" y="483.85" width="24.3" height="142.15" fill="#127dd8"/>
<rect x="905.4" y="493.33" width="24.3" height="132.67" fill="#1079da"/>
<rect x="905.4" y="502.80" width="24.3" height="123.20" fill="#0d75dc"/>
<rect x="905.4" y="512.28" width="24.3" height="113.72" fill="#0871de"/>
<rect x="905.4" y="521.76" width="24.3" height="104.24" fill="#046de0"/>
<rect x="905.4" y="531.23" width="24.3" height="94.77" fill="#0268e1"/>
<rect x="905.4" y="540.71" width="24.3" height="85.29" fill="#0363e1"/>
<rect x="905.4" y="550.19" width="24.3" height="75.81" fill="#0f5cdd"/>
<rect x="905.4" y="559.66" width="24.3" height="66.34" fill="#2053d4"/>
<rect x="905.4" y="569.14" width="24.3" height="56.86" fill="#2c4ac7"/>
<rect x="905.4" y="578.62" width="24.3" height="47.38" fill="#3243ba"/>
<rect x="905.4" y="588.09" width="24.3" height="37.91" fill="#353dad"/>
<rect x="905.4" y="597.57" width="24.3" height="28.43" fill="#3637a0"/>
<rect x="905.4" y="607.05" width="24.3" height="18.95" fill="#363093"/>
<rect x="905.4" y="616.52" width="24.3" height="9.48" fill="#352a87"/>
<rect x="922.2" y="787.90" width="23.9" height="606.20" fill="#f9fb0e"/>
<rect x="922.2" y="797.37" width="23.9" height="596.73" fill="#f6f313"/>
<rect x="922.2" y="806.84" width="23.9" height="587.26" fill="#f5eb18"/>
<rect x="922.2" y="816.32" width="23.9" height="577.78" fill="#f5e41d"/>
<rect x="922.2" y="825.79" width="23.9" height="568.31" fill="#f5de21"/>
<rect x="922.2" y="835.26" width="23.9" height="558.84" fill="#f7d826"/>
<rect x="922.2" y="844.73" width="23.9" height="549.37" fill="#fad32a"/>
<rect x="922.2" y="854.20" width="23.9" height="539.90" fill="#fcce2e"/>
<rect x="922.2" y="863.67" width="23.9" height="530.42" fill="#fec832"/>
<rect x="922.2" y="873.15" width="23.9" height="520.95" fill="#ffc337"/>
<rect x="922.2" y="882.62" width="23.9" height="511.48" fill="#fdbe3d"/>
<rect x="922.2" y="892.09" width="23.9" height="502.01" fill="#f8bb44"/>
<rect x="922.2" y="901.56" width="23.9" height="492.54" fill="#f1b94a"/>
<rect x="922.2" y="911.03" width="23.9" height="483.07" fill="#e9b94e"/>
<rect x="922.2" y="920.51" width="23.9" height="473.59" fill="#e1b952"/>
<rect x="922.2" y="929.98" width="23.9" height="464.12" fill="#d9ba56"/>
<rect x="922.2" y="939.45" width="23.9" height="454.65" fill="#d1bb59"/>
<rect x="922.2" y="948.92" width="23.9" height="445.18" fill="#c8bc5d"/>
<rect x="922.2" y="958.39" width="23.9" height="435.71" fill="#c0bc60"/>
<rect x="922.2" y="967.87" width="23.9" height="426.23" fill="#b7bd64"/>
<rect x="922.2" y="977.34" width="23.9" height="416.76" fill="#aebe67"/>
<rect x="922.2" y="986.81" width="23.9" height="407.29" fill="#a5be6b"/>
<rect x="922.2" y="996.28" width="23.9" height="397.82" fill="#9cbf6f"/>
<rect x="922.2" y="1005.75" width="23.9" height="388.35" fill="#92bf73"/>
<rect x="922.2" y="1015.22" width="23.9" height="378.88" fill="#87bf77"/>
<rect x="922.2" y="1024.70" width="23.9" height="369.40" fill="#7cbf7b"/>
<rect x="922.2" y="1034.17" width="23.9" height="359.93" fill="#71bf80"/>
<rect x="922.2" y="1043.64" width="23.9" height="350.46" fill="#65be86"/>
<rect x="922.2" y="1053.11" width="23.9" height="340.99" fill="#59bd8c"/>
<rect x="922.2" y="1062.58" width="23.9" height="331.52" fill="#4dbc92"/>
<rect x="922.2" y="1072.06" width="23.9" height="322.04" fill="#42bb98"/>
<rect x="922.2" y="1081.53" width="23.9" height="312.57" fill="#38b99e"/>
<rect x="922.2" y="1091.00" width="23.9" height="303.10" fill="#2eb7a4"/>
<rect x="922.2" y="1100.47" width="23.9" height="293.63" fill="#25b5a9"/>
<rect x="922.2" y="1109.94" width="23.9" height="284.16" fill="#1db3af"/>
<rect x="922.2" y="1119.42" width="23.9" height="274.68" fill="#15b1b4"/>
<rect x="922.2" y="1128.89" width="23.9" height="265.21" fill="#0faeb9"/>
<rect x="922.2" y="1138.36" width="23.9" height="255.74" fill="#0aacbe"/>
<rect x="922.2" y="1147.83" width="23.9" height="246.27" fill="#07a9c2"/>
<rect x="922.2" y="1157.30" width="23.9" height="236.80" fill="#06a7c6"/>
<rect x="922.2" y="1166.77" width="23.9" height="227.33" fill="#06a4ca"/>
<rect x="922.2" y="1176.25" width="23.9" height="217.85" fill="#06a0cd"/>
<rect x="922.2" y="1185.72" width="23.9" height="208.38" fill="#079ccf"/>
<rect x="922.2" y="1195.19" width="23.9" height="198.91" fill="#0998d1"/>
<rect x="922.2" y="1204.66" width="23.9" height="189.44" fill="#0c93d2"/>
<rect x="922.2" y="1214.13" width="23.9" height="179.97" fill="#108ed2"/>
<rect x="922.2" y="1223.61" width="23.9" height="170.49" fill="#1389d3"/>
<rect x="922.2" y="1233.08" width="23.9" height="161.02" fill="#1485d4"/>
<rect x="922.2" y="1242.55" width="23.9" height="151.55" fill="#1481d6"/>
<rect x="922.2" y="1252.02" width="23.9" height="142.08" fill="#127dd8"/>
<rect x="922.2" y="1261.49" width="23.9" height="132.61" fill="#1079da"/>
<rect x="922.2" y="1270.97" width="23.9" height="123.13" fill="#0d75dc"/>
<rect x="922.2" y="1280.44" width="23.9" height="113.66" fill="#0871de"/>
<rect x="922.2" y="1289.91" width="23.9" height="104.19" fill="#046de0"/>
<rect x="922.2" y="1299.38" width="23.9" height="94.72" fill="#0268e1"/>
<rect x="922.2" y="1308.85" width="23.9" height="85.25" fill="#0363e1"/>
<rect x="922.2" y="1318.32" width="23.9" height="75.78" fill="#0f5cdd"/>
<rect x="922.2" y="1327.80" width="23.9" height="66.30" fill="#2053d4"/>
<rect x="922.2" y="1337.27" width="23.9" height="56.83" fill="#2c4ac7"/>
<rect x="922.2" y="1346.74" width="23.9" height="47.36" fill="#3243ba"/>
<rect x="922.2" y="1356.21" width="23.9" height="37.89" fill="#353dad"/>
<rect x="922.2" y="1365.68" width="23.9" height="28.42" fill="#3637a0"/>
<rect x="922.2" y="1375.16" width="23.9" height="18.94" fill="#363093"/>
<rect x="922.2" y="1384.63" width="23.9" height="9.47" fill="#352a87"/>
<text x="144.2" y="648.2" class="tk" text-anchor="middle">60</text>
<text x="280.7" y="648.2" class="tk" text-anchor="middle">70</text>
<text x="417.1" y="648.2" class="tk" text-anchor="middle">80</text>
<text x="553.6" y="648.2" class="tk" text-anchor="middle">90</text>
<text x="690.0" y="648.2" class="tk" text-anchor="middle">100</text>
<text x="826.5" y="648.2" class="tk" text-anchor="middle">110</text>
<text x="69.4" y="632.8" class="tk" style="font-size:18.3px" text-anchor="end">5</text>
<text x="69.4" y="565.4" class="tk" style="font-size:18.3px" text-anchor="end">10</text>
<text x="69.4" y="498.0" class="tk" style="font-size:18.3px" text-anchor="end">15</text>
<text x="69.4" y="430.6" class="tk" style="font-size:18.3px" text-anchor="end">20</text>
<text x="69.4" y="363.2" class="tk" style="font-size:18.3px" text-anchor="end">25</text>
<text x="69.4" y="295.9" class="tk" style="font-size:18.3px" text-anchor="end">30</text>
<text x="69.4" y="228.5" class="tk" style="font-size:18.3px" text-anchor="end">35</text>
<text x="69.4" y="161.1" class="tk" style="font-size:18.3px" text-anchor="end">40</text>
<text x="69.4" y="93.7" class="tk" style="font-size:18.3px" text-anchor="end">45</text>
<text x="69.4" y="26.3" class="tk" style="font-size:18.3px" text-anchor="end">50</text>
<text x="935.7" y="632.1" class="tk" style="font-size:17.1px">-15</text>
<text x="935.7" y="510.8" class="tk" style="font-size:17.1px">-10</text>
<path d="M929.7 504.7 h-6" stroke="#262626" stroke-width="1"/>
<text x="935.7" y="389.5" class="tk" style="font-size:17.1px">-5</text>
<path d="M929.7 383.4 h-6" stroke="#262626" stroke-width="1"/>
<text x="935.7" y="268.2" class="tk" style="font-size:17.1px">0</text>
<path d="M929.7 262.1 h-6" stroke="#262626" stroke-width="1"/>
<text x="935.7" y="146.9" class="tk" style="font-size:17.1px">5</text>
<path d="M929.7 140.8 h-6" stroke="#262626" stroke-width="1"/>
<text x="935.7" y="25.6" class="tk" style="font-size:17.1px">10</text>
<rect x="905.7" y="20.0" width="23.7" height="606.0" fill="none" stroke="#333" stroke-width="1.2"/>
<text x="73.8" y="1417.0" class="tk" text-anchor="middle">50</text>
<text x="210.3" y="1417.0" class="tk" text-anchor="middle">60</text>
<text x="346.7" y="1417.0" class="tk" text-anchor="middle">70</text>
<text x="483.2" y="1417.0" class="tk" text-anchor="middle">80</text>
<text x="619.7" y="1417.0" class="tk" text-anchor="middle">90</text>
<text x="756.1" y="1417.0" class="tk" text-anchor="middle">100</text>
<text x="892.6" y="1417.0" class="tk" text-anchor="middle">110</text>
<text x="67.2" y="1400.9" class="tk" style="font-size:18.3px" text-anchor="end">5</text>
<text x="67.2" y="1333.5" class="tk" style="font-size:18.3px" text-anchor="end">10</text>
<text x="67.2" y="1266.2" class="tk" style="font-size:18.3px" text-anchor="end">15</text>
<text x="67.2" y="1198.8" class="tk" style="font-size:18.3px" text-anchor="end">20</text>
<text x="67.2" y="1131.5" class="tk" style="font-size:18.3px" text-anchor="end">25</text>
<text x="67.2" y="1064.1" class="tk" style="font-size:18.3px" text-anchor="end">30</text>
<text x="67.2" y="996.8" class="tk" style="font-size:18.3px" text-anchor="end">35</text>
<text x="67.2" y="929.4" class="tk" style="font-size:18.3px" text-anchor="end">40</text>
<text x="67.2" y="862.1" class="tk" style="font-size:18.3px" text-anchor="end">45</text>
<text x="67.2" y="794.7" class="tk" style="font-size:18.3px" text-anchor="end">50</text>
<text x="952.1" y="1400.2" class="tk" style="font-size:17.1px">-10</text>
<text x="952.1" y="1339.6" class="tk" style="font-size:17.1px">-8</text>
<path d="M946.1 1333.5 h-6" stroke="#262626" stroke-width="1"/>
<text x="952.1" y="1279.0" class="tk" style="font-size:17.1px">-6</text>
<path d="M946.1 1272.9 h-6" stroke="#262626" stroke-width="1"/>
<text x="952.1" y="1218.3" class="tk" style="font-size:17.1px">-4</text>
<path d="M946.1 1212.2 h-6" stroke="#262626" stroke-width="1"/>
<text x="952.1" y="1157.7" class="tk" style="font-size:17.1px">-2</text>
<path d="M946.1 1151.6 h-6" stroke="#262626" stroke-width="1"/>
<text x="952.1" y="1097.1" class="tk" style="font-size:17.1px">0</text>
<path d="M946.1 1091.0 h-6" stroke="#262626" stroke-width="1"/>
<text x="952.1" y="1036.5" class="tk" style="font-size:17.1px">2</text>
<path d="M946.1 1030.4 h-6" stroke="#262626" stroke-width="1"/>
<text x="952.1" y="975.9" class="tk" style="font-size:17.1px">4</text>
<path d="M946.1 969.8 h-6" stroke="#262626" stroke-width="1"/>
<text x="952.1" y="915.2" class="tk" style="font-size:17.1px">6</text>
<path d="M946.1 909.1 h-6" stroke="#262626" stroke-width="1"/>
<text x="952.1" y="854.6" class="tk" style="font-size:17.1px">8</text>
<path d="M946.1 848.5 h-6" stroke="#262626" stroke-width="1"/>
<text x="952.1" y="794.0" class="tk" style="font-size:17.1px">10</text>
<rect x="922.5" y="788.4" width="23.3" height="605.7" fill="none" stroke="#333" stroke-width="1.2"/>
<text x="485.5" y="670.7" class="ax" text-anchor="middle">Condition 2 Velocity (kph)</text>
<text x="483.5" y="1439.2" class="ax" text-anchor="middle">Condition 1 Velocity (kph)</text>
<text transform="translate(37 321.5) rotate(-90)" class="ax" text-anchor="middle">Span Maximum Reduction Factor</text>
<text transform="translate(37 1090) rotate(-90)" class="ax" text-anchor="middle">Span Maximum Reduction Factor</text>
<text transform="translate(986.5 322.4) rotate(-90)" class="ax" style="font-size:16.9px" text-anchor="middle">% L/D Improvement over B0Cam Design</text>
<text transform="translate(1003 1091) rotate(-90)" class="ax" style="font-size:16.9px" text-anchor="middle">% L/D Improvement over B0Cam Design</text>
<text x="497" y="727.5" class="cap">(a)</text>
<text x="497" y="1499.3" class="cap">(b)</text>
</svg>
</body></html>
